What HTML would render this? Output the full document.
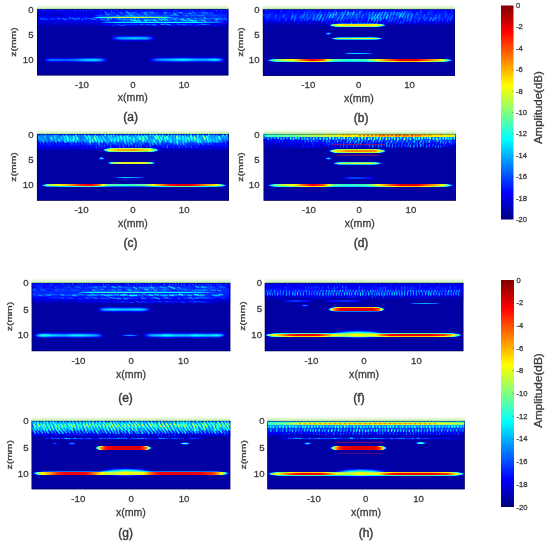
<!DOCTYPE html>
<html><head><meta charset="utf-8"><title>Figure</title>
<style>html,body{margin:0;padding:0;background:#fff;}svg{display:block;}</style></head>
<body><svg width="550" height="542" viewBox="0 0 550 542" font-family='"Liberation Sans", Arial, sans-serif'>
<defs>
<linearGradient id="topglow" x1="0" y1="0" x2="0" y2="1"><stop offset="0" stop-color="#d4f4c4" stop-opacity="0"/><stop offset="0.6" stop-color="#c8f0b0" stop-opacity="0.6"/><stop offset="1" stop-color="#b0e890" stop-opacity="0.95"/></linearGradient>
<filter id="jet" x="0" y="0" width="1" height="1" color-interpolation-filters="sRGB">
<feComponentTransfer>
<feFuncR type="table" tableValues="0 0 0 0 0.5 1 1 1 0.5"/>
<feFuncG type="table" tableValues="0 0 0.5 1 1 1 0.5 0 0"/>
<feFuncB type="table" tableValues="0.5 1 1 1 0.5 0 0 0 0"/>
</feComponentTransfer>
<feGaussianBlur stdDeviation="0.4"/>
</filter>
<linearGradient id="vg1" x1="0" y1="0" x2="0" y2="1"><stop offset="0.000" stop-color="#141414"/><stop offset="0.300" stop-color="#1f1f1f"/><stop offset="0.700" stop-color="#1a1a1a"/><stop offset="1.000" stop-color="#0a0a0a"/></linearGradient>
<filter id="bl0" x="-50%" y="-200%" width="200%" height="500%" color-interpolation-filters="sRGB"><feGaussianBlur stdDeviation="1.0 1.0"/></filter>
<linearGradient id="vg2" x1="0" y1="0" x2="0" y2="1"><stop offset="0.000" stop-color="#1a1a1a"/><stop offset="0.300" stop-color="#2b2b2b"/><stop offset="0.700" stop-color="#2b2b2b"/><stop offset="1.000" stop-color="#0a0a0a"/></linearGradient>
<linearGradient id="mg4" x1="0" y1="0" x2="1" y2="0"><stop offset="0.000" stop-color="white" stop-opacity="0.00"/><stop offset="0.225" stop-color="white" stop-opacity="1.00"/><stop offset="0.921" stop-color="white" stop-opacity="1.00"/><stop offset="1.000" stop-color="white" stop-opacity="0.30"/></linearGradient>
<mask id="mk3" maskContentUnits="userSpaceOnUse"><rect x="90.0" y="4.0" width="143.5" height="27.0" fill="url(#mg4)"/></mask>
<filter id="bl1" x="-50%" y="-200%" width="200%" height="500%" color-interpolation-filters="sRGB"><feGaussianBlur stdDeviation="0.75 0.75"/></filter>
<linearGradient id="hg5" x1="0" y1="0" x2="1" y2="0"><stop offset="0.000" stop-color="#323232"/><stop offset="0.123" stop-color="#565656"/><stop offset="0.410" stop-color="#636363"/><stop offset="0.738" stop-color="#636363"/><stop offset="1.000" stop-color="#3c3c3c"/></linearGradient>
<filter id="bl2" x="-50%" y="-200%" width="200%" height="500%" color-interpolation-filters="sRGB"><feGaussianBlur stdDeviation="1.2 0.5"/></filter>
<linearGradient id="hg6" x1="0" y1="0" x2="1" y2="0"><stop offset="0.000" stop-color="#494949"/><stop offset="0.150" stop-color="#777777"/><stop offset="0.338" stop-color="#929292"/><stop offset="0.588" stop-color="#989898"/><stop offset="0.838" stop-color="#848484"/><stop offset="1.000" stop-color="#494949"/></linearGradient>
<filter id="bl3" x="-50%" y="-200%" width="200%" height="500%" color-interpolation-filters="sRGB"><feGaussianBlur stdDeviation="1.0 0.5"/></filter>
<linearGradient id="hg7" x1="0" y1="0" x2="1" y2="0"><stop offset="0.000" stop-color="#434343"/><stop offset="0.159" stop-color="#757575"/><stop offset="0.545" stop-color="#898989"/><stop offset="0.841" stop-color="#787878"/><stop offset="1.000" stop-color="#434343"/></linearGradient>
<filter id="bl4" x="-50%" y="-200%" width="200%" height="500%" color-interpolation-filters="sRGB"><feGaussianBlur stdDeviation="1.0 0.8"/></filter>
<linearGradient id="hg8" x1="0" y1="0" x2="1" y2="0"><stop offset="0.000" stop-color="#414141"/><stop offset="0.095" stop-color="#616161"/><stop offset="0.333" stop-color="#575757"/><stop offset="0.492" stop-color="#616161"/><stop offset="0.651" stop-color="#818181"/><stop offset="0.810" stop-color="#8b8b8b"/><stop offset="0.905" stop-color="#747474"/><stop offset="1.000" stop-color="#414141"/></linearGradient>
<linearGradient id="hg9" x1="0" y1="0" x2="1" y2="0"><stop offset="0.000" stop-color="#414141"/><stop offset="0.108" stop-color="#6e6e6e"/><stop offset="0.270" stop-color="#818181"/><stop offset="0.432" stop-color="#9b9b9b"/><stop offset="0.608" stop-color="#818181"/><stop offset="0.743" stop-color="#7b7b7b"/><stop offset="0.878" stop-color="#959595"/><stop offset="0.946" stop-color="#818181"/><stop offset="1.000" stop-color="#474747"/></linearGradient>
<clipPath id="cp10"><rect x="37.0" y="8.8" width="191.5" height="66.8"/></clipPath>
<linearGradient id="vg11" x1="0" y1="0" x2="0" y2="1"><stop offset="0.000" stop-color="#1f1f1f"/><stop offset="0.350" stop-color="#292929"/><stop offset="0.700" stop-color="#212121"/><stop offset="1.000" stop-color="#0a0a0a"/></linearGradient>
<linearGradient id="hg12" x1="0" y1="0" x2="1" y2="0"><stop offset="0.000" stop-color="#676767"/><stop offset="0.073" stop-color="#969696"/><stop offset="0.273" stop-color="#a5a5a5"/><stop offset="0.727" stop-color="#a5a5a5"/><stop offset="0.909" stop-color="#969696"/><stop offset="1.000" stop-color="#676767"/></linearGradient>
<filter id="bl5" x="-50%" y="-200%" width="200%" height="500%" color-interpolation-filters="sRGB"><feGaussianBlur stdDeviation="0.8 0.6"/></filter>
<linearGradient id="hg13" x1="0" y1="0" x2="1" y2="0"><stop offset="0.000" stop-color="#606060"/><stop offset="0.100" stop-color="#8e8e8e"/><stop offset="0.560" stop-color="#9c9c9c"/><stop offset="0.900" stop-color="#8e8e8e"/><stop offset="1.000" stop-color="#525252"/></linearGradient>
<linearGradient id="hg14" x1="0" y1="0" x2="1" y2="0"><stop offset="0.000" stop-color="#3c3c3c"/><stop offset="0.387" stop-color="#5a5a5a"/><stop offset="1.000" stop-color="#343434"/></linearGradient>
<filter id="bl6" x="-50%" y="-200%" width="200%" height="500%" color-interpolation-filters="sRGB"><feGaussianBlur stdDeviation="1.0 0.6"/></filter>
<linearGradient id="hg15" x1="0" y1="0" x2="1" y2="0"><stop offset="0.000" stop-color="#505050"/><stop offset="0.022" stop-color="#787878"/><stop offset="0.092" stop-color="#939393"/><stop offset="0.152" stop-color="#a6a6a6"/><stop offset="0.190" stop-color="#c8c8c8"/><stop offset="0.239" stop-color="#e3e3e3"/><stop offset="0.293" stop-color="#d0d0d0"/><stop offset="0.326" stop-color="#a0a0a0"/><stop offset="0.353" stop-color="#787878"/><stop offset="0.418" stop-color="#6b6b6b"/><stop offset="0.527" stop-color="#707070"/><stop offset="0.565" stop-color="#868686"/><stop offset="0.598" stop-color="#a0a0a0"/><stop offset="0.663" stop-color="#c8c8c8"/><stop offset="0.717" stop-color="#e3e3e3"/><stop offset="0.799" stop-color="#e8e8e8"/><stop offset="0.837" stop-color="#d6d6d6"/><stop offset="0.891" stop-color="#bbbbbb"/><stop offset="0.946" stop-color="#a0a0a0"/><stop offset="0.978" stop-color="#787878"/><stop offset="1.000" stop-color="#505050"/></linearGradient>
<filter id="bl7" x="-50%" y="-200%" width="200%" height="500%" color-interpolation-filters="sRGB"><feGaussianBlur stdDeviation="0.9 0.65"/></filter>
<clipPath id="cp16"><rect x="262.8" y="8.9" width="192.2" height="67.0"/></clipPath>
<linearGradient id="vg17" x1="0" y1="0" x2="0" y2="1"><stop offset="0.000" stop-color="#424242"/><stop offset="0.350" stop-color="#454545"/><stop offset="0.650" stop-color="#242424"/><stop offset="1.000" stop-color="#0a0a0a"/></linearGradient>
<linearGradient id="hg18" x1="0" y1="0" x2="1" y2="0"><stop offset="0.000" stop-color="#6c6c6c"/><stop offset="0.093" stop-color="#9a9a9a"/><stop offset="0.259" stop-color="#b3b3b3"/><stop offset="0.574" stop-color="#b8b8b8"/><stop offset="0.852" stop-color="#9f9f9f"/><stop offset="1.000" stop-color="#666666"/></linearGradient>
<linearGradient id="hg19" x1="0" y1="0" x2="1" y2="0"><stop offset="0.000" stop-color="#606060"/><stop offset="0.106" stop-color="#8e8e8e"/><stop offset="0.681" stop-color="#9c9c9c"/><stop offset="0.894" stop-color="#8e8e8e"/><stop offset="1.000" stop-color="#525252"/></linearGradient>
<linearGradient id="hg20" x1="0" y1="0" x2="1" y2="0"><stop offset="0.000" stop-color="#3c3c3c"/><stop offset="0.345" stop-color="#5a5a5a"/><stop offset="1.000" stop-color="#343434"/></linearGradient>
<linearGradient id="hg21" x1="0" y1="0" x2="1" y2="0"><stop offset="0.000" stop-color="#505050"/><stop offset="0.022" stop-color="#868686"/><stop offset="0.098" stop-color="#a0a0a0"/><stop offset="0.163" stop-color="#bbbbbb"/><stop offset="0.207" stop-color="#d6d6d6"/><stop offset="0.261" stop-color="#e3e3e3"/><stop offset="0.304" stop-color="#c8c8c8"/><stop offset="0.332" stop-color="#9b9b9b"/><stop offset="0.359" stop-color="#787878"/><stop offset="0.451" stop-color="#6b6b6b"/><stop offset="0.560" stop-color="#787878"/><stop offset="0.598" stop-color="#9b9b9b"/><stop offset="0.641" stop-color="#b6b6b6"/><stop offset="0.696" stop-color="#dbdbdb"/><stop offset="0.766" stop-color="#e8e8e8"/><stop offset="0.832" stop-color="#dbdbdb"/><stop offset="0.886" stop-color="#bbbbbb"/><stop offset="0.940" stop-color="#a6a6a6"/><stop offset="0.973" stop-color="#868686"/><stop offset="1.000" stop-color="#505050"/></linearGradient>
<clipPath id="cp22"><rect x="36.9" y="133.7" width="192.1" height="67.1"/></clipPath>
<linearGradient id="vg23" x1="0" y1="0" x2="0" y2="1"><stop offset="0.000" stop-color="#474747"/><stop offset="0.300" stop-color="#333333"/><stop offset="0.600" stop-color="#1a1a1a"/><stop offset="1.000" stop-color="#0a0a0a"/></linearGradient>
<linearGradient id="mg25" x1="0" y1="0" x2="1" y2="0"><stop offset="0.000" stop-color="white" stop-opacity="0.60"/><stop offset="0.294" stop-color="white" stop-opacity="0.90"/><stop offset="1.000" stop-color="white" stop-opacity="1.00"/></linearGradient>
<mask id="mk24" maskContentUnits="userSpaceOnUse"><rect x="258.5" y="129.5" width="202.5" height="24.5" fill="url(#mg25)"/></mask>
<linearGradient id="hg26" x1="0" y1="0" x2="1" y2="0"><stop offset="0.000" stop-color="#6b6b6b"/><stop offset="0.138" stop-color="#7b7b7b"/><stop offset="0.294" stop-color="#8f8f8f"/><stop offset="0.449" stop-color="#9f9f9f"/><stop offset="0.605" stop-color="#aeaeae"/><stop offset="0.761" stop-color="#b3b3b3"/><stop offset="0.865" stop-color="#a4a4a4"/><stop offset="1.000" stop-color="#999999"/></linearGradient>
<filter id="bl8" x="-50%" y="-200%" width="200%" height="500%" color-interpolation-filters="sRGB"><feGaussianBlur stdDeviation="0.8 0.5"/></filter>
<linearGradient id="hg27" x1="0" y1="0" x2="1" y2="0"><stop offset="0.000" stop-color="#737373"/><stop offset="0.109" stop-color="#a4a4a4"/><stop offset="0.327" stop-color="#bdbdbd"/><stop offset="0.818" stop-color="#bdbdbd"/><stop offset="1.000" stop-color="#737373"/></linearGradient>
<linearGradient id="hg28" x1="0" y1="0" x2="1" y2="0"><stop offset="0.000" stop-color="#606060"/><stop offset="0.128" stop-color="#8e8e8e"/><stop offset="0.660" stop-color="#9c9c9c"/><stop offset="0.894" stop-color="#8e8e8e"/><stop offset="1.000" stop-color="#525252"/></linearGradient>
<linearGradient id="hg29" x1="0" y1="0" x2="1" y2="0"><stop offset="0.000" stop-color="#3c3c3c"/><stop offset="0.387" stop-color="#5a5a5a"/><stop offset="1.000" stop-color="#343434"/></linearGradient>
<linearGradient id="hg30" x1="0" y1="0" x2="1" y2="0"><stop offset="0.000" stop-color="#505050"/><stop offset="0.022" stop-color="#787878"/><stop offset="0.092" stop-color="#939393"/><stop offset="0.152" stop-color="#a6a6a6"/><stop offset="0.190" stop-color="#c8c8c8"/><stop offset="0.239" stop-color="#e3e3e3"/><stop offset="0.293" stop-color="#d0d0d0"/><stop offset="0.326" stop-color="#a0a0a0"/><stop offset="0.353" stop-color="#787878"/><stop offset="0.418" stop-color="#6b6b6b"/><stop offset="0.527" stop-color="#707070"/><stop offset="0.565" stop-color="#868686"/><stop offset="0.598" stop-color="#a0a0a0"/><stop offset="0.663" stop-color="#c8c8c8"/><stop offset="0.717" stop-color="#e3e3e3"/><stop offset="0.799" stop-color="#e8e8e8"/><stop offset="0.837" stop-color="#d6d6d6"/><stop offset="0.891" stop-color="#bbbbbb"/><stop offset="0.946" stop-color="#a0a0a0"/><stop offset="0.978" stop-color="#787878"/><stop offset="1.000" stop-color="#505050"/></linearGradient>
<filter id="bl9" x="-50%" y="-200%" width="200%" height="500%" color-interpolation-filters="sRGB"><feGaussianBlur stdDeviation="0.8 0.35"/></filter>
<filter id="bl10" x="-50%" y="-200%" width="200%" height="500%" color-interpolation-filters="sRGB"><feGaussianBlur stdDeviation="0.5 0.4"/></filter>
<clipPath id="cp31"><rect x="263.5" y="133.7" width="192.5" height="67.1"/></clipPath>
<linearGradient id="vg32" x1="0" y1="0" x2="0" y2="1"><stop offset="0.000" stop-color="#1f1f1f"/><stop offset="0.300" stop-color="#2b2b2b"/><stop offset="0.600" stop-color="#292929"/><stop offset="0.850" stop-color="#141414"/><stop offset="1.000" stop-color="#0a0a0a"/></linearGradient>
<linearGradient id="hg33" x1="0" y1="0" x2="1" y2="0"><stop offset="0.000" stop-color="#3c3c3c"/><stop offset="0.088" stop-color="#636363"/><stop offset="0.234" stop-color="#6d6d6d"/><stop offset="0.453" stop-color="#6a6a6a"/><stop offset="0.672" stop-color="#636363"/><stop offset="0.891" stop-color="#565656"/><stop offset="1.000" stop-color="#323232"/></linearGradient>
<linearGradient id="hg34" x1="0" y1="0" x2="1" y2="0"><stop offset="0.000" stop-color="#4f4f4f"/><stop offset="0.115" stop-color="#7f7f7f"/><stop offset="0.269" stop-color="#929292"/><stop offset="0.519" stop-color="#858585"/><stop offset="0.769" stop-color="#929292"/><stop offset="0.904" stop-color="#7f7f7f"/><stop offset="1.000" stop-color="#464646"/></linearGradient>
<filter id="bl11" x="-50%" y="-200%" width="200%" height="500%" color-interpolation-filters="sRGB"><feGaussianBlur stdDeviation="0.9 0.85"/></filter>
<linearGradient id="hg35" x1="0" y1="0" x2="1" y2="0"><stop offset="0.000" stop-color="#5f5f5f"/><stop offset="0.074" stop-color="#929292"/><stop offset="0.147" stop-color="#9f9f9f"/><stop offset="0.250" stop-color="#7f7f7f"/><stop offset="0.441" stop-color="#727272"/><stop offset="0.544" stop-color="#858585"/><stop offset="0.662" stop-color="#8b8b8b"/><stop offset="0.809" stop-color="#787878"/><stop offset="0.926" stop-color="#696969"/><stop offset="1.000" stop-color="#3f3f3f"/></linearGradient>
<linearGradient id="hg36" x1="0" y1="0" x2="1" y2="0"><stop offset="0.000" stop-color="#323232"/><stop offset="0.500" stop-color="#4b4b4b"/><stop offset="1.000" stop-color="#2c2c2c"/></linearGradient>
<linearGradient id="hg37" x1="0" y1="0" x2="1" y2="0"><stop offset="0.000" stop-color="#464646"/><stop offset="0.074" stop-color="#727272"/><stop offset="0.198" stop-color="#7f7f7f"/><stop offset="0.272" stop-color="#959595"/><stop offset="0.383" stop-color="#7f7f7f"/><stop offset="0.543" stop-color="#787878"/><stop offset="0.642" stop-color="#929292"/><stop offset="0.753" stop-color="#7f7f7f"/><stop offset="0.852" stop-color="#858585"/><stop offset="0.938" stop-color="#989898"/><stop offset="1.000" stop-color="#5f5f5f"/></linearGradient>
<clipPath id="cp38"><rect x="31.6" y="282.6" width="198.8" height="68.7"/></clipPath>
<linearGradient id="vg39" x1="0" y1="0" x2="0" y2="1"><stop offset="0.000" stop-color="#121212"/><stop offset="0.350" stop-color="#242424"/><stop offset="0.650" stop-color="#1c1c1c"/><stop offset="1.000" stop-color="#0a0a0a"/></linearGradient>
<filter id="bl12" x="-50%" y="-200%" width="200%" height="500%" color-interpolation-filters="sRGB"><feGaussianBlur stdDeviation="0.5 0.5"/></filter>
<linearGradient id="hg40" x1="0" y1="0" x2="1" y2="0"><stop offset="0.000" stop-color="#323232"/><stop offset="0.414" stop-color="#535353"/><stop offset="1.000" stop-color="#323232"/></linearGradient>
<linearGradient id="hg41" x1="0" y1="0" x2="1" y2="0"><stop offset="0.000" stop-color="#323232"/><stop offset="0.541" stop-color="#4f4f4f"/><stop offset="1.000" stop-color="#323232"/></linearGradient>
<linearGradient id="hg42" x1="0" y1="0" x2="1" y2="0"><stop offset="0.000" stop-color="#323232"/><stop offset="0.500" stop-color="#4f4f4f"/><stop offset="1.000" stop-color="#323232"/></linearGradient>
<linearGradient id="hg43" x1="0" y1="0" x2="1" y2="0"><stop offset="0.000" stop-color="#737373"/><stop offset="0.073" stop-color="#b3b3b3"/><stop offset="0.164" stop-color="#d9d9d9"/><stop offset="0.291" stop-color="#e6e6e6"/><stop offset="0.782" stop-color="#e6e6e6"/><stop offset="0.909" stop-color="#cccccc"/><stop offset="1.000" stop-color="#737373"/></linearGradient>
<linearGradient id="hg44" x1="0" y1="0" x2="1" y2="0"><stop offset="0.000" stop-color="#4d4d4d"/><stop offset="0.255" stop-color="#6b6b6b"/><stop offset="0.490" stop-color="#808080"/><stop offset="0.745" stop-color="#737373"/><stop offset="1.000" stop-color="#4d4d4d"/></linearGradient>
<filter id="bl13" x="-50%" y="-200%" width="200%" height="500%" color-interpolation-filters="sRGB"><feGaussianBlur stdDeviation="0.9 0.8"/></filter>
<linearGradient id="hg45" x1="0" y1="0" x2="1" y2="0"><stop offset="0.000" stop-color="#5b5b5b"/><stop offset="0.021" stop-color="#8f8f8f"/><stop offset="0.072" stop-color="#b1b1b1"/><stop offset="0.123" stop-color="#d6d6d6"/><stop offset="0.174" stop-color="#e3e3e3"/><stop offset="0.267" stop-color="#dedede"/><stop offset="0.308" stop-color="#c4c4c4"/><stop offset="0.349" stop-color="#9c9c9c"/><stop offset="0.405" stop-color="#8f8f8f"/><stop offset="0.467" stop-color="#a2a2a2"/><stop offset="0.508" stop-color="#979797"/><stop offset="0.559" stop-color="#9c9c9c"/><stop offset="0.595" stop-color="#c4c4c4"/><stop offset="0.636" stop-color="#dedede"/><stop offset="0.687" stop-color="#e3e3e3"/><stop offset="0.841" stop-color="#e3e3e3"/><stop offset="0.918" stop-color="#d1d1d1"/><stop offset="0.954" stop-color="#aaaaaa"/><stop offset="0.979" stop-color="#828282"/><stop offset="1.000" stop-color="#4e4e4e"/></linearGradient>
<filter id="bl14" x="-50%" y="-200%" width="200%" height="500%" color-interpolation-filters="sRGB"><feGaussianBlur stdDeviation="0.9 0.7"/></filter>
<clipPath id="cp46"><rect x="264.7" y="282.6" width="198.8" height="68.7"/></clipPath>
<linearGradient id="vg47" x1="0" y1="0" x2="0" y2="1"><stop offset="0.000" stop-color="#383838"/><stop offset="0.200" stop-color="#4c4c4c"/><stop offset="0.450" stop-color="#424242"/><stop offset="0.650" stop-color="#262626"/><stop offset="0.850" stop-color="#141414"/><stop offset="1.000" stop-color="#0a0a0a"/></linearGradient>
<linearGradient id="hg48" x1="0" y1="0" x2="1" y2="0"><stop offset="0.000" stop-color="#737373"/><stop offset="0.073" stop-color="#b3b3b3"/><stop offset="0.164" stop-color="#d9d9d9"/><stop offset="0.291" stop-color="#e6e6e6"/><stop offset="0.782" stop-color="#e6e6e6"/><stop offset="0.909" stop-color="#cccccc"/><stop offset="1.000" stop-color="#737373"/></linearGradient>
<linearGradient id="hg49" x1="0" y1="0" x2="1" y2="0"><stop offset="0.000" stop-color="#4d4d4d"/><stop offset="0.255" stop-color="#6b6b6b"/><stop offset="0.490" stop-color="#808080"/><stop offset="0.745" stop-color="#737373"/><stop offset="1.000" stop-color="#4d4d4d"/></linearGradient>
<linearGradient id="hg50" x1="0" y1="0" x2="1" y2="0"><stop offset="0.000" stop-color="#5b5b5b"/><stop offset="0.021" stop-color="#8f8f8f"/><stop offset="0.072" stop-color="#b1b1b1"/><stop offset="0.124" stop-color="#d6d6d6"/><stop offset="0.175" stop-color="#e3e3e3"/><stop offset="0.268" stop-color="#dedede"/><stop offset="0.309" stop-color="#c4c4c4"/><stop offset="0.351" stop-color="#9c9c9c"/><stop offset="0.407" stop-color="#8f8f8f"/><stop offset="0.469" stop-color="#a2a2a2"/><stop offset="0.510" stop-color="#979797"/><stop offset="0.562" stop-color="#9c9c9c"/><stop offset="0.598" stop-color="#c4c4c4"/><stop offset="0.639" stop-color="#dedede"/><stop offset="0.691" stop-color="#e3e3e3"/><stop offset="0.845" stop-color="#e3e3e3"/><stop offset="0.923" stop-color="#d1d1d1"/><stop offset="0.959" stop-color="#aaaaaa"/><stop offset="0.985" stop-color="#828282"/><stop offset="1.005" stop-color="#4e4e4e"/></linearGradient>
<clipPath id="cp51"><rect x="31.5" y="420.6" width="198.9" height="68.8"/></clipPath>
<linearGradient id="vg52" x1="0" y1="0" x2="0" y2="1"><stop offset="0.000" stop-color="#4c4c4c"/><stop offset="0.200" stop-color="#595959"/><stop offset="0.350" stop-color="#383838"/><stop offset="0.600" stop-color="#242424"/><stop offset="0.800" stop-color="#141414"/><stop offset="1.000" stop-color="#0a0a0a"/></linearGradient>
<linearGradient id="hg53" x1="0" y1="0" x2="1" y2="0"><stop offset="-0.001" stop-color="#767676"/><stop offset="0.090" stop-color="#808080"/><stop offset="0.141" stop-color="#959595"/><stop offset="0.217" stop-color="#a4a4a4"/><stop offset="0.571" stop-color="#afafaf"/><stop offset="0.773" stop-color="#aaaaaa"/><stop offset="0.900" stop-color="#9a9a9a"/><stop offset="1.000" stop-color="#8d8d8d"/></linearGradient>
<filter id="bl15" x="-50%" y="-200%" width="200%" height="500%" color-interpolation-filters="sRGB"><feGaussianBlur stdDeviation="0.8 0.45"/></filter>
<linearGradient id="hg54" x1="0" y1="0" x2="1" y2="0"><stop offset="0.000" stop-color="#737373"/><stop offset="0.073" stop-color="#b3b3b3"/><stop offset="0.164" stop-color="#d9d9d9"/><stop offset="0.291" stop-color="#e6e6e6"/><stop offset="0.782" stop-color="#e6e6e6"/><stop offset="0.909" stop-color="#cccccc"/><stop offset="1.000" stop-color="#737373"/></linearGradient>
<linearGradient id="hg55" x1="0" y1="0" x2="1" y2="0"><stop offset="0.000" stop-color="#4d4d4d"/><stop offset="0.255" stop-color="#6b6b6b"/><stop offset="0.490" stop-color="#808080"/><stop offset="0.745" stop-color="#737373"/><stop offset="1.000" stop-color="#4d4d4d"/></linearGradient>
<linearGradient id="hg56" x1="0" y1="0" x2="1" y2="0"><stop offset="0.000" stop-color="#5b5b5b"/><stop offset="0.021" stop-color="#8f8f8f"/><stop offset="0.072" stop-color="#b1b1b1"/><stop offset="0.123" stop-color="#d6d6d6"/><stop offset="0.174" stop-color="#e3e3e3"/><stop offset="0.267" stop-color="#dedede"/><stop offset="0.308" stop-color="#c4c4c4"/><stop offset="0.349" stop-color="#9c9c9c"/><stop offset="0.405" stop-color="#8f8f8f"/><stop offset="0.467" stop-color="#a2a2a2"/><stop offset="0.508" stop-color="#979797"/><stop offset="0.559" stop-color="#9c9c9c"/><stop offset="0.595" stop-color="#c4c4c4"/><stop offset="0.636" stop-color="#dedede"/><stop offset="0.687" stop-color="#e3e3e3"/><stop offset="0.841" stop-color="#e3e3e3"/><stop offset="0.918" stop-color="#d1d1d1"/><stop offset="0.954" stop-color="#aaaaaa"/><stop offset="0.979" stop-color="#828282"/><stop offset="1.000" stop-color="#4e4e4e"/></linearGradient>
<clipPath id="cp57"><rect x="267.2" y="420.8" width="197.6" height="68.6"/></clipPath>
<linearGradient id="cb58" x1="0" y1="0" x2="0" y2="1"><stop offset="0.000" stop-color="#800000"/><stop offset="0.125" stop-color="#ff0000"/><stop offset="0.375" stop-color="#ffff00"/><stop offset="0.625" stop-color="#00ffff"/><stop offset="0.875" stop-color="#0000ff"/><stop offset="1.000" stop-color="#000080"/></linearGradient>
<linearGradient id="cb59" x1="0" y1="0" x2="0" y2="1"><stop offset="0.000" stop-color="#800000"/><stop offset="0.125" stop-color="#ff0000"/><stop offset="0.375" stop-color="#ffff00"/><stop offset="0.625" stop-color="#00ffff"/><stop offset="0.875" stop-color="#0000ff"/><stop offset="1.000" stop-color="#000080"/></linearGradient>
</defs>
<g clip-path="url(#cp10)"><g filter="url(#jet)">
<rect x="37.0" y="8.8" width="191.5" height="66.8" fill="#090909" opacity="1.00"/>
<g><rect x="37.0" y="9.0" width="191.5" height="18.0" fill="url(#vg1)" filter="url(#bl0)"/></g>
<g mask="url(#mk3)"><rect x="95.0" y="9.0" width="133.5" height="17.0" fill="url(#vg2)" filter="url(#bl0)"/></g>
<g filter="url(#bl1)">
<path d="M38.5 12.2l2.4 0.9M49.9 15.0l2.5 0.7M52.3 14.9l2.5 0.7M55.8 15.2l2.5 0.7" stroke="#0d0d0d" stroke-width="1.4" stroke-linecap="round" fill="none"/>
<path d="M44.1 12.8l2.4 0.9M54.5 12.8l2.4 0.9M57.0 13.0l2.4 0.9M63.1 12.4l2.4 0.9M72.4 12.0l2.4 0.9M78.3 12.7l2.4 0.9M84.3 12.3l2.4 0.9M94.1 12.8l2.4 0.9M37.2 14.8l2.5 0.7M40.5 14.5l2.5 0.7M43.5 14.5l2.5 0.7M46.4 15.4l2.5 0.7M59.2 15.1l2.5 0.7M62.6 15.1l2.5 0.7M72.0 14.5l2.5 0.7M81.3 15.1l2.5 0.7M86.9 15.4l2.5 0.7M90.5 15.2l2.5 0.7" stroke="#131313" stroke-width="1.4" stroke-linecap="round" fill="none"/>
<path d="M210.1 24.9l3.0 0.5M216.0 24.3l3.0 0.5M219.4 24.0l3.0 0.5" stroke="#1a1a1a" stroke-width="1.3" stroke-linecap="round" fill="none"/>
<path d="M41.3 12.9l2.4 0.9M47.5 12.4l2.4 0.9M50.9 12.5l2.4 0.9M59.7 12.7l2.4 0.9M81.7 12.6l2.4 0.9M87.8 13.1l2.4 0.9M90.8 12.9l2.4 0.9M96.7 13.0l2.4 0.9M65.9 15.3l2.5 0.7M75.1 14.3l2.5 0.7M78.3 14.7l2.5 0.7" stroke="#1a1a1a" stroke-width="1.4" stroke-linecap="round" fill="none"/>
<path d="M100.1 24.7l3.0 0.5M103.6 24.5l3.0 0.5M106.4 24.3l3.0 0.5M158.0 24.0l3.0 0.5" stroke="#202020" stroke-width="1.3" stroke-linecap="round" fill="none"/>
<path d="M65.8 12.7l2.4 0.9M69.4 12.1l2.4 0.9M74.9 12.9l2.4 0.9M99.1 13.1l2.4 0.9M102.0 12.2l2.4 0.9M213.6 12.4l2.4 0.9M216.1 12.3l2.4 0.9M222.7 12.0l2.4 0.9M69.4 14.9l2.5 0.7M83.8 15.2l2.5 0.7M179.3 14.7l2.5 0.7" stroke="#202020" stroke-width="1.4" stroke-linecap="round" fill="none"/>
<path d="M48.6 10.0l0.0 1.0M51.8 10.6l0.0 1.0M55.2 9.5l0.0 1.0M65.8 9.8l0.0 1.0M123.7 10.4l0.0 1.0M133.0 10.5l0.0 1.0M144.7 9.8l0.0 1.0M155.5 9.5l0.0 1.0M179.7 9.7l0.0 1.0M209.5 10.5l0.0 1.0" stroke="#202020" stroke-width="1.6" stroke-linecap="round" fill="none"/>
<path d="M109.5 24.9l3.0 0.5M136.2 24.1l3.0 0.5M155.3 24.9l3.0 0.5M174.0 24.4l3.0 0.5M186.2 24.2l3.0 0.5M192.9 24.8l3.0 0.5M213.3 24.9l3.0 0.5" stroke="#262626" stroke-width="1.3" stroke-linecap="round" fill="none"/>
<path d="M114.7 12.7l2.4 0.9M117.1 13.1l2.4 0.9M122.6 13.1l2.4 0.9M137.3 12.3l2.4 0.9M158.9 12.6l2.4 0.9M161.3 12.7l2.4 0.9M170.9 13.1l2.4 0.9M219.5 12.4l2.4 0.9M93.9 15.1l2.5 0.7M102.3 14.4l2.5 0.7M48.6 18.7l1.7 1.0M100.7 20.3l2.4 0.9M109.8 19.6l2.4 0.9M112.8 19.6l2.4 0.9M115.9 20.1l2.4 0.9M212.3 19.3l2.4 0.9" stroke="#262626" stroke-width="1.4" stroke-linecap="round" fill="none"/>
<path d="M40.0 10.0l0.0 1.0M60.7 9.5l0.0 1.0M63.3 10.1l0.0 1.0M68.7 9.5l0.0 1.0M72.0 10.3l0.0 1.0M77.0 10.4l0.0 1.0M89.3 9.5l0.0 1.0M94.4 10.3l0.0 1.0M97.5 10.0l0.0 1.0M103.2 9.5l0.0 1.0M108.6 9.7l0.0 1.0M120.2 10.2l0.0 1.0M130.2 10.2l0.0 1.0M136.0 10.1l0.0 1.0M138.9 9.9l0.0 1.0M158.7 9.6l0.0 1.0M161.7 9.6l0.0 1.0M169.5 9.5l0.0 1.0M172.3 9.7l0.0 1.0M182.8 10.3l0.0 1.0M194.9 10.3l0.0 1.0M197.3 10.7l0.0 1.0M200.7 10.5l0.0 1.0M206.2 9.5l0.0 1.0M219.2 9.9l0.0 1.0M224.3 10.3l0.0 1.0" stroke="#262626" stroke-width="1.6" stroke-linecap="round" fill="none"/>
<path d="M112.1 24.9l3.0 0.5M115.4 24.2l3.0 0.5M124.9 24.3l3.0 0.5M128.3 24.6l3.0 0.5M131.2 24.3l3.0 0.5M133.8 24.2l3.0 0.5M143.2 24.4l3.0 0.5M170.4 24.9l3.0 0.5M179.6 24.3l3.0 0.5M189.4 24.3l3.0 0.5M195.4 24.8l3.0 0.5M207.2 24.1l3.0 0.5" stroke="#2d2d2d" stroke-width="1.3" stroke-linecap="round" fill="none"/>
<path d="M156.2 12.0l2.4 0.9M167.5 12.6l2.4 0.9M183.4 13.0l2.4 0.9M195.4 12.8l2.4 0.9M198.6 12.0l2.4 0.9M208.1 12.3l2.4 0.9M111.7 15.2l2.5 0.7M114.1 14.8l2.5 0.7M119.9 14.6l2.5 0.7M122.9 15.0l2.5 0.7M161.5 14.3l2.5 0.7M204.3 15.1l2.5 0.7M216.5 15.1l2.5 0.7M46.0 18.8l1.7 1.0M54.7 18.5l1.7 1.0M60.9 18.4l1.7 1.0M177.5 19.6l2.4 0.9M206.2 20.2l2.4 0.9M209.1 19.5l2.4 0.9" stroke="#2d2d2d" stroke-width="1.4" stroke-linecap="round" fill="none"/>
<path d="M37.4 10.4l0.0 1.0M43.1 9.6l0.0 1.0M45.4 10.0l0.0 1.0M58.1 10.0l0.0 1.0M74.5 10.5l0.0 1.0M80.1 10.0l0.0 1.0M83.4 9.9l0.0 1.0M86.4 10.5l0.0 1.0M91.9 10.0l0.0 1.0M100.5 10.1l0.0 1.0M105.6 10.7l0.0 1.0M114.5 9.8l0.0 1.0M117.4 10.2l0.0 1.0M126.9 10.4l0.0 1.0M141.8 10.2l0.0 1.0M147.2 10.5l0.0 1.0M150.4 10.5l0.0 1.0M153.1 10.3l0.0 1.0M164.2 9.7l0.0 1.0M166.9 10.0l0.0 1.0M177.3 10.5l0.0 1.0M185.9 9.8l0.0 1.0M189.4 10.1l0.0 1.0M192.0 10.0l0.0 1.0M212.9 9.7l0.0 1.0M221.7 10.0l0.0 1.0M226.9 9.9l0.0 1.0" stroke="#2d2d2d" stroke-width="1.6" stroke-linecap="round" fill="none"/>
<path d="M149.8 24.6l3.0 0.5M198.0 24.2l3.0 0.5" stroke="#333333" stroke-width="1.3" stroke-linecap="round" fill="none"/>
<path d="M108.2 13.1l2.4 0.9M111.7 12.3l2.4 0.9M140.9 12.7l2.4 0.9M146.8 12.3l2.4 0.9M176.9 12.1l2.4 0.9M185.8 13.0l2.4 0.9M210.5 12.5l2.4 0.9M96.8 15.4l2.5 0.7M99.7 14.8l2.5 0.7M108.9 14.4l2.5 0.7M135.1 14.6l2.5 0.7M150.2 14.9l2.5 0.7M152.6 14.8l2.5 0.7M155.4 15.2l2.5 0.7M158.6 15.0l2.5 0.7M167.6 15.4l2.5 0.7M182.2 15.3l2.5 0.7M188.6 15.2l2.5 0.7M207.8 14.4l2.5 0.7M211.2 14.8l2.5 0.7M213.6 15.2l2.5 0.7M51.5 18.3l1.7 1.0M66.1 18.9l1.7 1.0M87.5 17.9l1.7 1.0M95.9 18.2l1.7 1.0M98.8 17.9l1.7 1.0M103.8 18.5l1.7 1.0M112.9 18.2l1.7 1.0M127.5 18.7l1.7 1.0M140.5 17.9l1.7 1.0M149.5 17.8l1.7 1.0M119.1 19.5l2.4 0.9M141.1 19.8l2.4 0.9M156.6 20.0l2.4 0.9M170.6 19.2l2.4 0.9M218.7 19.8l2.4 0.9" stroke="#333333" stroke-width="1.4" stroke-linecap="round" fill="none"/>
<path d="M111.5 10.4l0.0 1.0M174.8 10.1l0.0 1.0M203.4 10.4l0.0 1.0M216.3 10.3l0.0 1.0" stroke="#333333" stroke-width="1.6" stroke-linecap="round" fill="none"/>
<path d="M118.3 24.8l3.0 0.5M121.5 24.8l3.0 0.5M139.6 24.1l3.0 0.5M146.5 24.3l3.0 0.5M176.9 23.9l3.0 0.5M204.5 24.4l3.0 0.5" stroke="#393939" stroke-width="1.3" stroke-linecap="round" fill="none"/>
<path d="M104.7 12.1l2.4 0.9M119.9 12.5l2.4 0.9M134.6 12.3l2.4 0.9M153.1 12.7l2.4 0.9M140.9 15.4l2.5 0.7M147.2 14.6l2.5 0.7M164.2 15.3l2.5 0.7M176.5 14.9l2.5 0.7M191.8 15.0l2.5 0.7M194.7 15.0l2.5 0.7M43.4 18.4l1.7 1.0M81.4 18.8l1.7 1.0M90.6 18.6l1.7 1.0M121.3 18.6l1.7 1.0M143.6 18.2l1.7 1.0M152.8 18.0l1.7 1.0M155.2 17.7l1.7 1.0M167.2 18.8l1.7 1.0M191.4 17.8l1.7 1.0M198.2 18.3l1.7 1.0M201.0 18.2l1.7 1.0M207.1 18.7l1.7 1.0M209.5 18.2l1.7 1.0M221.5 18.1l1.7 1.0M104.0 20.0l2.4 0.9M107.0 20.2l2.4 0.9M121.9 20.1l2.4 0.9M167.6 19.9l2.4 0.9M196.8 20.1l2.4 0.9" stroke="#393939" stroke-width="1.4" stroke-linecap="round" fill="none"/>
<path d="M164.3 23.8l3.0 0.5M183.0 24.7l3.0 0.5M201.5 24.1l3.0 0.5" stroke="#404040" stroke-width="1.3" stroke-linecap="round" fill="none"/>
<path d="M128.9 13.1l2.4 0.9M131.9 12.7l2.4 0.9M192.5 12.2l2.4 0.9M202.1 12.6l2.4 0.9M205.2 12.5l2.4 0.9M116.5 15.0l2.5 0.7M125.6 15.2l2.5 0.7M137.6 14.4l2.5 0.7M170.6 14.8l2.5 0.7M185.3 15.3l2.5 0.7M198.2 15.3l2.5 0.7M201.5 15.0l2.5 0.7M40.6 18.5l1.7 1.0M57.8 18.0l1.7 1.0M63.4 18.7l1.7 1.0M69.2 17.7l1.7 1.0M72.6 18.1l1.7 1.0M75.4 18.6l1.7 1.0M77.9 17.9l1.7 1.0M84.6 18.0l1.7 1.0M115.8 17.9l1.7 1.0M130.8 18.2l1.7 1.0M170.3 18.4l1.7 1.0M185.6 18.9l1.7 1.0M212.7 17.9l1.7 1.0M224.8 18.4l1.7 1.0M128.4 19.5l2.4 0.9M215.1 20.1l2.4 0.9" stroke="#404040" stroke-width="1.4" stroke-linecap="round" fill="none"/>
<path d="M152.8 24.6l3.0 0.5M161.0 24.2l3.0 0.5M167.4 24.4l3.0 0.5" stroke="#464646" stroke-width="1.3" stroke-linecap="round" fill="none"/>
<path d="M150.3 12.3l2.4 0.9M164.1 12.5l2.4 0.9M173.5 13.1l2.4 0.9M179.9 12.3l2.4 0.9M189.2 13.0l2.4 0.9M105.8 14.4l2.5 0.7M132.0 15.2l2.5 0.7M144.2 14.4l2.5 0.7M173.8 14.6l2.5 0.7M93.2 18.6l1.7 1.0M101.2 18.8l1.7 1.0M124.0 18.8l1.7 1.0M146.1 18.7l1.7 1.0M173.2 17.8l1.7 1.0M176.0 17.9l1.7 1.0M179.3 18.5l1.7 1.0M194.7 18.1l1.7 1.0M218.6 18.0l1.7 1.0M124.9 19.3l2.4 0.9M187.8 20.0l2.4 0.9M200.2 19.7l2.4 0.9" stroke="#464646" stroke-width="1.4" stroke-linecap="round" fill="none"/>
<path d="M126.2 12.1l2.4 0.9M144.1 12.4l2.4 0.9M129.0 14.9l2.5 0.7M109.7 17.8l1.7 1.0M118.4 18.3l1.7 1.0M137.2 17.9l1.7 1.0M161.6 18.2l1.7 1.0M151.0 19.6l2.4 0.9M165.0 19.5l2.4 0.9M174.0 19.4l2.4 0.9M184.3 20.2l2.4 0.9" stroke="#4d4d4d" stroke-width="1.4" stroke-linecap="round" fill="none"/>
<path d="M107.0 18.4l1.7 1.0M133.8 18.2l1.7 1.0M158.3 18.5l1.7 1.0M182.4 18.6l1.7 1.0M204.1 17.7l1.7 1.0M215.9 18.7l1.7 1.0M147.5 19.6l2.4 0.9M162.5 19.2l2.4 0.9M180.9 19.5l2.4 0.9M203.1 20.1l2.4 0.9" stroke="#535353" stroke-width="1.4" stroke-linecap="round" fill="none"/>
<path d="M164.6 18.5l1.7 1.0M188.1 18.7l1.7 1.0M159.6 19.4l2.4 0.9M194.1 20.4l2.4 0.9" stroke="#595959" stroke-width="1.4" stroke-linecap="round" fill="none"/>
<path d="M130.9 19.7l2.4 0.9M134.4 20.3l2.4 0.9M137.8 20.3l2.4 0.9M144.2 20.1l2.4 0.9M154.0 19.8l2.4 0.9M190.9 20.1l2.4 0.9" stroke="#606060" stroke-width="1.4" stroke-linecap="round" fill="none"/>
</g>
<rect x="100.0" y="21.70" width="122.0" height="1.20" rx="8.0" ry="0.60" fill="url(#hg5)" filter="url(#bl2)"/>
<rect x="93.0" y="16.80" width="80.0" height="1.20" rx="8.0" ry="0.60" fill="url(#hg6)" filter="url(#bl3)"/>
<rect x="111.0" y="37.25" width="44.0" height="1.90" rx="8.0" ry="0.95" fill="url(#hg7)" filter="url(#bl4)"/>
<rect x="44.0" y="59.00" width="63.0" height="2.00" rx="8.0" ry="1.00" fill="url(#hg8)" filter="url(#bl4)"/>
<rect x="150.0" y="58.80" width="74.0" height="2.00" rx="8.0" ry="1.00" fill="url(#hg9)" filter="url(#bl4)"/>
</g>
</g>
<rect x="37.4" y="9.2" width="190.7" height="66.0" fill="none" stroke="#00004a" stroke-width="0.8" opacity="0.7"/>
<rect x="37.0" y="4.3" width="191.5" height="4.8" fill="url(#topglow)"/>
<text x="33.5" y="9.2" font-size="9.6" text-anchor="end" dominant-baseline="central" font-weight="normal" fill="#3c3c3c" stroke="#3c3c3c" stroke-width="0.30">0</text>
<text x="33.5" y="34.2" font-size="9.6" text-anchor="end" dominant-baseline="central" font-weight="normal" fill="#3c3c3c" stroke="#3c3c3c" stroke-width="0.30">5</text>
<text x="33.5" y="59.3" font-size="9.6" text-anchor="end" dominant-baseline="central" font-weight="normal" fill="#3c3c3c" stroke="#3c3c3c" stroke-width="0.30">10</text>
<text x="82.0" y="84.0" font-size="9.6" text-anchor="middle" dominant-baseline="central" font-weight="normal" fill="#3c3c3c" stroke="#3c3c3c" stroke-width="0.30" textLength="14.0" lengthAdjust="spacingAndGlyphs">-10</text>
<text x="133.0" y="84.0" font-size="9.6" text-anchor="middle" dominant-baseline="central" font-weight="normal" fill="#3c3c3c" stroke="#3c3c3c" stroke-width="0.30">0</text>
<text x="184.0" y="84.0" font-size="9.6" text-anchor="middle" dominant-baseline="central" font-weight="normal" fill="#3c3c3c" stroke="#3c3c3c" stroke-width="0.30">10</text>
<text x="132.8" y="97.0" font-size="10.8" text-anchor="middle" dominant-baseline="central" font-weight="normal" fill="#3c3c3c" stroke="#3c3c3c" stroke-width="0.30" textLength="30.0" lengthAdjust="spacingAndGlyphs">x(mm)</text>
<text x="13.5" y="42.0" font-size="7.8" text-anchor="middle" dominant-baseline="central" font-weight="normal" fill="#3c3c3c" stroke="#3c3c3c" stroke-width="0.30" textLength="29.5" lengthAdjust="spacingAndGlyphs" transform="rotate(-90 13.5 42.0)">z(mm)</text>
<text x="130.7" y="117.3" font-size="12.0" text-anchor="middle" dominant-baseline="central" font-weight="normal" fill="#3c3c3c" stroke="#3c3c3c" stroke-width="0.45">(a)</text>
<g clip-path="url(#cp16)"><g filter="url(#jet)">
<rect x="262.8" y="8.9" width="192.2" height="67.0" fill="#090909" opacity="1.00"/>
<g><rect x="263.0" y="9.0" width="192.0" height="16.0" fill="url(#vg11)" filter="url(#bl0)"/></g>
<g filter="url(#bl1)">
<path d="M292.2 21.0l-0.7 1.9M295.5 20.5l-0.7 1.9M301.8 21.5l-0.7 1.9M304.3 21.4l-0.7 1.9M313.0 20.5l-0.7 1.9M319.0 21.1l-0.7 1.9M442.7 20.8l-0.7 1.9M452.1 21.5l-0.7 1.9" stroke="#131313" stroke-width="1.6" stroke-linecap="round" fill="none"/>
<path d="M271.6 10.3l0.0 1.2M284.1 9.6l0.0 1.2M292.5 9.6l0.0 1.2M295.3 10.2l0.0 1.2M333.1 10.7l0.0 1.2M350.9 10.5l0.0 1.2M365.0 10.0l0.0 1.2M371.2 10.5l0.0 1.2M376.2 10.4l0.0 1.2M379.1 10.8l0.0 1.2M381.6 10.0l0.0 1.2M387.6 10.1l0.0 1.2M399.9 10.1l0.0 1.2M403.4 10.3l0.0 1.2M412.7 10.3l0.0 1.2M415.3 9.6l0.0 1.2M417.9 10.4l0.0 1.2M265.1 11.6l-1.1 2.3M278.8 11.8l-1.1 2.3M301.9 12.5l-1.1 2.3M283.1 18.2l-1.3 2.7M307.8 21.6l-0.7 1.9M310.3 20.5l-0.7 1.9M315.9 20.8l-0.7 1.9M322.1 21.6l-0.7 1.9M324.6 21.0l-0.7 1.9M339.5 21.3l-0.7 1.9M355.1 20.8l-0.7 1.9M412.9 21.0l-0.7 1.9M428.0 20.5l-0.7 1.9M432.9 21.0l-0.7 1.9M449.0 21.1l-0.7 1.9" stroke="#1a1a1a" stroke-width="1.6" stroke-linecap="round" fill="none"/>
<path d="M274.7 9.8l0.0 1.2M277.6 10.5l0.0 1.2M286.6 10.0l0.0 1.2M314.2 10.2l0.0 1.2M317.7 10.6l0.0 1.2M326.8 9.9l0.0 1.2M338.8 10.4l0.0 1.2M341.9 9.8l0.0 1.2M373.6 10.6l0.0 1.2M397.2 10.4l0.0 1.2M409.8 10.3l0.0 1.2M424.5 10.1l0.0 1.2M435.9 9.7l0.0 1.2M439.2 9.7l0.0 1.2M441.8 9.9l0.0 1.2M448.0 10.7l0.0 1.2M268.5 12.1l-1.1 2.3M275.6 11.5l-1.1 2.3M285.1 12.1l-1.1 2.3M290.5 12.6l-1.1 2.3M414.9 11.5l-1.1 2.3M426.4 12.4l-1.1 2.3M435.3 11.7l-1.1 2.3M449.5 12.1l-1.1 2.3M265.3 17.6l-1.3 2.7M288.9 17.4l-1.3 2.7M298.6 21.5l-0.7 1.9M330.5 21.0l-0.7 1.9M336.6 20.6l-0.7 1.9M345.7 21.0l-0.7 1.9M348.6 20.7l-0.7 1.9M381.2 21.2l-0.7 1.9M421.9 20.6l-0.7 1.9M425.1 21.6l-0.7 1.9M430.4 21.3l-0.7 1.9M439.5 20.7l-0.7 1.9M446.1 21.3l-0.7 1.9" stroke="#202020" stroke-width="1.6" stroke-linecap="round" fill="none"/>
<path d="M268.4 10.5l0.0 1.2M298.9 9.8l0.0 1.2M302.4 10.5l0.0 1.2M305.9 10.5l0.0 1.2M311.3 10.5l0.0 1.2M323.5 10.7l0.0 1.2M329.6 9.8l0.0 1.2M353.4 9.9l0.0 1.2M367.6 9.7l0.0 1.2M384.8 9.7l0.0 1.2M390.9 10.7l0.0 1.2M406.3 9.8l0.0 1.2M427.2 10.3l0.0 1.2M433.5 9.6l0.0 1.2M444.8 10.0l0.0 1.2M454.6 9.7l0.0 1.2M272.0 11.8l-1.1 2.3M282.2 11.5l-1.1 2.3M287.8 11.6l-1.1 2.3M296.1 12.0l-1.1 2.3M299.4 11.6l-1.1 2.3M322.9 12.1l-1.1 2.3M363.3 12.2l-1.1 2.3M423.9 12.1l-1.1 2.3M438.2 11.8l-1.1 2.3M440.6 12.6l-1.1 2.3M443.4 11.9l-1.1 2.3M273.2 14.7l-1.5 3.2M279.4 14.6l-1.5 3.2M282.0 15.2l-1.5 3.2M287.4 14.1l-1.5 3.2M290.4 14.5l-1.5 3.2M298.8 14.3l-1.5 3.2M430.9 14.1l-1.5 3.2M433.6 14.3l-1.5 3.2M443.4 14.1l-1.5 3.2M271.9 18.0l-1.3 2.7M274.3 17.5l-1.3 2.7M277.0 18.0l-1.3 2.7M298.6 17.5l-1.3 2.7M311.5 18.1l-1.3 2.7M360.7 17.9l-1.3 2.7M366.1 17.9l-1.3 2.7M402.4 18.1l-1.3 2.7M414.0 17.8l-1.3 2.7M423.1 17.9l-1.3 2.7M446.0 18.2l-1.3 2.7M327.5 21.1l-0.7 1.9M334.0 21.2l-0.7 1.9M343.0 21.1l-0.7 1.9M364.8 21.5l-0.7 1.9M370.8 21.6l-0.7 1.9M374.1 21.1l-0.7 1.9M384.3 21.6l-0.7 1.9M387.9 21.2l-0.7 1.9M394.5 20.6l-0.7 1.9M406.5 21.4l-0.7 1.9M410.0 21.3l-0.7 1.9M418.5 20.7l-0.7 1.9M436.4 21.5l-0.7 1.9" stroke="#262626" stroke-width="1.6" stroke-linecap="round" fill="none"/>
<path d="M265.9 9.7l0.0 1.2M281.2 10.3l0.0 1.2M289.4 10.2l0.0 1.2M308.7 10.8l0.0 1.2M320.6 10.7l0.0 1.2M335.8 10.4l0.0 1.2M345.0 10.3l0.0 1.2M347.5 10.5l0.0 1.2M356.1 9.7l0.0 1.2M359.1 9.9l0.0 1.2M361.8 10.1l0.0 1.2M394.2 10.4l0.0 1.2M430.6 9.9l0.0 1.2M451.5 10.1l0.0 1.2M293.0 11.7l-1.1 2.3M307.5 12.4l-1.1 2.3M310.8 11.9l-1.1 2.3M316.8 12.6l-1.1 2.3M325.6 12.3l-1.1 2.3M339.9 11.8l-1.1 2.3M366.7 12.1l-1.1 2.3M421.1 12.3l-1.1 2.3M431.9 12.4l-1.1 2.3M446.3 11.8l-1.1 2.3M366.7 14.2l-1.5 3.2M394.2 14.1l-1.5 3.2M419.0 14.6l-1.5 3.2M421.5 15.1l-1.5 3.2M428.3 14.6l-1.5 3.2M449.6 14.5l-1.5 3.2M452.5 15.0l-1.5 3.2M268.6 17.5l-1.3 2.7M280.1 18.1l-1.3 2.7M292.1 17.5l-1.3 2.7M329.3 17.5l-1.3 2.7M332.3 17.8l-1.3 2.7M351.7 17.6l-1.3 2.7M354.5 18.1l-1.3 2.7M363.3 18.0l-1.3 2.7M384.2 17.3l-1.3 2.7M387.4 18.0l-1.3 2.7M399.1 18.4l-1.3 2.7M416.6 17.6l-1.3 2.7M428.2 18.0l-1.3 2.7M443.5 18.4l-1.3 2.7M361.6 20.8l-0.7 1.9M367.8 21.1l-0.7 1.9M391.2 20.9l-0.7 1.9M397.7 21.0l-0.7 1.9M415.4 20.9l-0.7 1.9" stroke="#2d2d2d" stroke-width="1.6" stroke-linecap="round" fill="none"/>
<path d="M420.9 10.7l0.0 1.2M305.1 12.3l-1.1 2.3M313.8 11.8l-1.1 2.3M331.6 12.7l-1.1 2.3M376.8 12.4l-1.1 2.3M408.2 11.8l-1.1 2.3M411.3 11.7l-1.1 2.3M429.0 12.4l-1.1 2.3M264.0 14.4l-1.5 3.2M267.1 14.8l-1.5 3.2M270.0 14.1l-1.5 3.2M276.6 14.8l-1.5 3.2M311.1 15.1l-1.5 3.2M325.1 14.8l-1.5 3.2M337.5 14.0l-1.5 3.2M346.8 15.0l-1.5 3.2M354.8 14.3l-1.5 3.2M360.3 14.3l-1.5 3.2M397.8 15.1l-1.5 3.2M416.0 14.6l-1.5 3.2M446.8 14.3l-1.5 3.2M286.5 18.0l-1.3 2.7M302.0 17.6l-1.3 2.7M305.4 17.7l-1.3 2.7M326.4 17.7l-1.3 2.7M335.4 17.4l-1.3 2.7M344.9 17.5l-1.3 2.7M348.3 17.3l-1.3 2.7M395.8 17.9l-1.3 2.7M440.1 18.2l-1.3 2.7M448.4 18.4l-1.3 2.7M351.9 21.4l-0.7 1.9M358.5 21.1l-0.7 1.9M377.6 21.2l-0.7 1.9M400.7 21.4l-0.7 1.9M403.6 21.1l-0.7 1.9" stroke="#333333" stroke-width="1.6" stroke-linecap="round" fill="none"/>
<path d="M320.2 12.5l-1.1 2.3M329.1 12.4l-1.1 2.3M334.2 11.5l-1.1 2.3M357.0 12.7l-1.1 2.3M369.7 12.3l-1.1 2.3M388.3 12.3l-1.1 2.3M417.8 12.3l-1.1 2.3M284.6 14.5l-1.5 3.2M296.0 15.1l-1.5 3.2M301.5 14.5l-1.5 3.2M307.7 14.5l-1.5 3.2M314.6 14.8l-1.5 3.2M328.3 14.5l-1.5 3.2M340.3 15.1l-1.5 3.2M349.7 14.8l-1.5 3.2M352.2 15.1l-1.5 3.2M363.4 14.5l-1.5 3.2M406.3 14.2l-1.5 3.2M424.9 14.8l-1.5 3.2M436.4 15.0l-1.5 3.2M439.9 14.6l-1.5 3.2M295.6 18.3l-1.3 2.7M308.3 17.8l-1.3 2.7M317.1 17.7l-1.3 2.7M357.3 17.7l-1.3 2.7M390.2 18.4l-1.3 2.7M393.1 17.7l-1.3 2.7M405.2 17.4l-1.3 2.7M408.3 18.2l-1.3 2.7M419.6 18.0l-1.3 2.7M425.7 17.8l-1.3 2.7M436.5 17.7l-1.3 2.7M451.6 17.3l-1.3 2.7" stroke="#393939" stroke-width="1.6" stroke-linecap="round" fill="none"/>
<path d="M345.5 11.6l-1.1 2.3M351.1 12.3l-1.1 2.3M360.4 11.6l-1.1 2.3M382.7 12.0l-1.1 2.3M391.7 12.4l-1.1 2.3M399.8 12.4l-1.1 2.3M402.4 12.2l-1.1 2.3M405.1 11.6l-1.1 2.3M293.1 15.1l-1.5 3.2M304.3 14.3l-1.5 3.2M357.5 14.3l-1.5 3.2M370.1 14.9l-1.5 3.2M372.7 15.0l-1.5 3.2M391.2 14.5l-1.5 3.2M314.3 17.5l-1.3 2.7M323.4 18.2l-1.3 2.7M341.6 18.3l-1.3 2.7M369.6 17.8l-1.3 2.7M411.3 18.1l-1.3 2.7M431.2 17.7l-1.3 2.7M434.0 18.0l-1.3 2.7" stroke="#404040" stroke-width="1.6" stroke-linecap="round" fill="none"/>
<path d="M342.6 12.3l-1.1 2.3M373.3 12.0l-1.1 2.3M380.0 12.5l-1.1 2.3M394.2 12.3l-1.1 2.3M397.3 12.5l-1.1 2.3M318.1 14.9l-1.5 3.2M381.3 14.4l-1.5 3.2M384.8 14.7l-1.5 3.2M408.9 14.1l-1.5 3.2M412.5 14.1l-1.5 3.2M320.1 17.5l-1.3 2.7M338.5 17.5l-1.3 2.7M378.4 18.3l-1.3 2.7M381.5 17.9l-1.3 2.7" stroke="#464646" stroke-width="1.6" stroke-linecap="round" fill="none"/>
<path d="M336.7 12.7l-1.1 2.3M385.9 12.2l-1.1 2.3M321.5 14.9l-1.5 3.2M343.7 14.5l-1.5 3.2M375.5 14.7l-1.5 3.2M403.8 14.0l-1.5 3.2M373.0 17.4l-1.3 2.7M375.7 18.4l-1.3 2.7" stroke="#4d4d4d" stroke-width="1.6" stroke-linecap="round" fill="none"/>
<path d="M348.6 12.4l-1.1 2.3M353.8 12.0l-1.1 2.3M330.9 14.4l-1.5 3.2M333.9 14.2l-1.5 3.2M401.0 14.1l-1.5 3.2" stroke="#535353" stroke-width="1.6" stroke-linecap="round" fill="none"/>
<path d="M378.4 14.5l-1.5 3.2M387.8 15.2l-1.5 3.2" stroke="#595959" stroke-width="1.6" stroke-linecap="round" fill="none"/>
</g>
<rect x="330.0" y="23.80" width="55.0" height="3.00" rx="8.0" ry="1.50" fill="url(#hg12)" filter="url(#bl5)"/>
<ellipse cx="328.5" cy="33.6" rx="2.2" ry="1.1" fill="#666666" filter="url(#bl5)"/>
<rect x="332.0" y="37.40" width="50.0" height="2.20" rx="8.0" ry="1.10" fill="url(#hg13)" filter="url(#bl5)"/>
<rect x="343.0" y="52.70" width="31.0" height="1.20" rx="8.0" ry="0.60" fill="url(#hg14)" filter="url(#bl6)"/>
<rect x="268.0" y="59.10" width="184.0" height="2.60" rx="8.0" ry="1.30" fill="url(#hg15)" filter="url(#bl7)"/>
</g>
</g>
<rect x="263.2" y="9.3" width="191.4" height="66.2" fill="none" stroke="#00004a" stroke-width="0.8" opacity="0.7"/>
<rect x="262.8" y="4.4" width="192.2" height="4.8" fill="url(#topglow)"/>
<text x="259.5" y="9.5" font-size="9.6" text-anchor="end" dominant-baseline="central" font-weight="normal" fill="#3c3c3c" stroke="#3c3c3c" stroke-width="0.30">0</text>
<text x="259.5" y="34.2" font-size="9.6" text-anchor="end" dominant-baseline="central" font-weight="normal" fill="#3c3c3c" stroke="#3c3c3c" stroke-width="0.30">5</text>
<text x="259.5" y="59.3" font-size="9.6" text-anchor="end" dominant-baseline="central" font-weight="normal" fill="#3c3c3c" stroke="#3c3c3c" stroke-width="0.30">10</text>
<text x="308.3" y="84.5" font-size="9.6" text-anchor="middle" dominant-baseline="central" font-weight="normal" fill="#3c3c3c" stroke="#3c3c3c" stroke-width="0.30" textLength="14.0" lengthAdjust="spacingAndGlyphs">-10</text>
<text x="358.7" y="84.5" font-size="9.6" text-anchor="middle" dominant-baseline="central" font-weight="normal" fill="#3c3c3c" stroke="#3c3c3c" stroke-width="0.30">0</text>
<text x="409.6" y="84.5" font-size="9.6" text-anchor="middle" dominant-baseline="central" font-weight="normal" fill="#3c3c3c" stroke="#3c3c3c" stroke-width="0.30">10</text>
<text x="358.9" y="97.5" font-size="10.8" text-anchor="middle" dominant-baseline="central" font-weight="normal" fill="#3c3c3c" stroke="#3c3c3c" stroke-width="0.30" textLength="30.0" lengthAdjust="spacingAndGlyphs">x(mm)</text>
<text x="240.6" y="42.1" font-size="7.8" text-anchor="middle" dominant-baseline="central" font-weight="normal" fill="#3c3c3c" stroke="#3c3c3c" stroke-width="0.30" textLength="29.5" lengthAdjust="spacingAndGlyphs" transform="rotate(-90 240.6 42.1)">z(mm)</text>
<text x="361.2" y="117.6" font-size="12.0" text-anchor="middle" dominant-baseline="central" font-weight="normal" fill="#3c3c3c" stroke="#3c3c3c" stroke-width="0.45">(b)</text>
<g clip-path="url(#cp22)"><g filter="url(#jet)">
<rect x="36.9" y="133.7" width="192.1" height="67.1" fill="#090909" opacity="1.00"/>
<g><rect x="37.0" y="134.5" width="192.0" height="16.5" fill="url(#vg17)" filter="url(#bl0)"/></g>
<g filter="url(#bl1)">
<path d="M80.5 146.0l0.3 1.8M209.6 145.6l0.3 1.8" stroke="#131313" stroke-width="1.5" stroke-linecap="round" fill="none"/>
<path d="M54.1 142.1l0.9 2.0" stroke="#131313" stroke-width="1.6" stroke-linecap="round" fill="none"/>
<path d="M200.8 145.3l0.3 1.8M203.8 145.9l0.3 1.8" stroke="#1a1a1a" stroke-width="1.5" stroke-linecap="round" fill="none"/>
<path d="M38.6 142.3l0.9 2.0M41.8 142.4l0.9 2.0M45.1 142.0l0.9 2.0M57.5 142.4l0.9 2.0M68.0 142.3l0.9 2.0M214.1 142.2l0.9 2.0M217.1 142.5l0.9 2.0M223.5 142.2l0.9 2.0M227.1 142.3l0.9 2.0" stroke="#1a1a1a" stroke-width="1.6" stroke-linecap="round" fill="none"/>
<path d="M83.8 146.1l0.3 1.8M93.3 145.8l0.3 1.8M143.5 145.2l0.3 1.8M152.8 145.4l0.3 1.8M155.6 145.6l0.3 1.8M207.2 145.6l0.3 1.8" stroke="#202020" stroke-width="1.5" stroke-linecap="round" fill="none"/>
<path d="M51.4 142.5l0.9 2.0M60.1 142.0l0.9 2.0M63.0 141.8l0.9 2.0M65.5 142.4l0.9 2.0M220.4 142.6l0.9 2.0" stroke="#202020" stroke-width="1.6" stroke-linecap="round" fill="none"/>
<path d="M86.9 145.6l0.3 1.8M89.8 146.0l0.3 1.8M107.8 145.4l0.3 1.8M113.4 145.3l0.3 1.8M116.3 145.1l0.3 1.8M169.8 145.8l0.3 1.8M176.3 145.1l0.3 1.8M194.3 145.3l0.3 1.8" stroke="#262626" stroke-width="1.5" stroke-linecap="round" fill="none"/>
<path d="M48.6 142.2l0.9 2.0M73.7 141.8l0.9 2.0M77.3 141.9l0.9 2.0M80.3 142.6l0.9 2.0M83.1 141.9l0.9 2.0M100.8 141.9l0.9 2.0M103.4 141.9l0.9 2.0M146.3 142.4l0.9 2.0" stroke="#262626" stroke-width="1.6" stroke-linecap="round" fill="none"/>
<path d="M125.8 145.5l0.3 1.8M132.2 145.5l0.3 1.8M146.8 146.1l0.3 1.8M158.1 145.2l0.3 1.8M161.5 145.2l0.3 1.8M163.9 145.7l0.3 1.8M173.2 145.9l0.3 1.8M182.2 145.7l0.3 1.8M188.6 145.1l0.3 1.8M197.2 145.5l0.3 1.8" stroke="#2d2d2d" stroke-width="1.5" stroke-linecap="round" fill="none"/>
<path d="M86.4 142.7l0.9 2.0M92.0 142.8l0.9 2.0M95.2 141.9l0.9 2.0M133.9 142.7l0.9 2.0M162.1 142.3l0.9 2.0M165.6 142.5l0.9 2.0M168.1 142.6l0.9 2.0M170.8 142.0l0.9 2.0M188.9 141.8l0.9 2.0M192.5 142.9l0.9 2.0M204.8 141.9l0.9 2.0M210.8 142.4l0.9 2.0" stroke="#2d2d2d" stroke-width="1.6" stroke-linecap="round" fill="none"/>
<path d="M96.2 146.0l0.3 1.8M99.0 145.1l0.3 1.8M101.5 145.3l0.3 1.8M104.5 145.0l0.3 1.8M128.8 145.3l0.3 1.8M140.9 145.6l0.3 1.8M178.7 146.0l0.3 1.8M191.2 146.1l0.3 1.8" stroke="#333333" stroke-width="1.5" stroke-linecap="round" fill="none"/>
<path d="M70.9 141.9l0.9 2.0M110.2 142.8l0.9 2.0M118.9 142.8l0.9 2.0M121.5 142.2l0.9 2.0M136.9 142.0l0.9 2.0M185.5 141.9l0.9 2.0M195.0 142.1l0.9 2.0M208.2 142.8l0.9 2.0" stroke="#333333" stroke-width="1.6" stroke-linecap="round" fill="none"/>
<path d="M60.2 135.3l0.0 1.0M47.7 137.4l0.8 2.1M222.8 139.1l0.9 2.0M225.3 139.2l0.9 2.0" stroke="#333333" stroke-width="1.7" stroke-linecap="round" fill="none"/>
<path d="M110.6 145.8l0.3 1.8M119.6 146.1l0.3 1.8M135.7 145.3l0.3 1.8M138.4 144.9l0.3 1.8M185.7 145.6l0.3 1.8" stroke="#393939" stroke-width="1.5" stroke-linecap="round" fill="none"/>
<path d="M116.4 142.9l0.9 2.0M143.0 142.0l0.9 2.0M198.4 142.6l0.9 2.0" stroke="#393939" stroke-width="1.6" stroke-linecap="round" fill="none"/>
<path d="M73.2 134.5l0.0 1.0M219.6 135.4l0.0 1.0M80.3 137.0l0.8 2.1M39.5 139.7l0.9 2.0M49.0 139.9l0.9 2.0M61.4 139.2l0.9 2.0" stroke="#393939" stroke-width="1.7" stroke-linecap="round" fill="none"/>
<path d="M123.2 145.4l0.3 1.8M150.2 145.0l0.3 1.8M167.2 145.9l0.3 1.8" stroke="#404040" stroke-width="1.5" stroke-linecap="round" fill="none"/>
<path d="M89.3 142.2l0.9 2.0M140.2 142.7l0.9 2.0M179.8 142.7l0.9 2.0M201.7 142.2l0.9 2.0" stroke="#404040" stroke-width="1.6" stroke-linecap="round" fill="none"/>
<path d="M37.7 134.7l0.0 1.0M40.8 134.4l0.0 1.0M49.3 135.1l0.0 1.0M79.0 134.9l0.0 1.0M81.9 135.0l0.0 1.0M91.7 135.3l0.0 1.0M98.5 135.3l0.0 1.0M123.2 135.0l0.0 1.0M41.9 136.5l0.8 2.1M57.7 136.6l0.8 2.1M83.7 136.6l0.8 2.1M45.5 139.9l0.9 2.0M52.5 139.3l0.9 2.0M81.0 139.7l0.9 2.0M130.0 139.9l0.9 2.0M139.6 139.6l0.9 2.0M162.5 139.5l0.9 2.0M219.8 139.9l0.9 2.0" stroke="#404040" stroke-width="1.7" stroke-linecap="round" fill="none"/>
<path d="M98.4 142.5l0.9 2.0M106.6 142.0l0.9 2.0M113.7 141.8l0.9 2.0M128.0 142.8l0.9 2.0M149.6 141.9l0.9 2.0M159.2 142.2l0.9 2.0M174.0 141.8l0.9 2.0" stroke="#464646" stroke-width="1.6" stroke-linecap="round" fill="none"/>
<path d="M43.3 134.6l0.0 1.0M51.9 135.3l0.0 1.0M69.8 135.4l0.0 1.0M101.6 134.4l0.0 1.0M125.7 134.8l0.0 1.0M128.8 134.4l0.0 1.0M165.0 135.1l0.0 1.0M188.3 134.7l0.0 1.0M194.5 134.7l0.0 1.0M200.4 134.9l0.0 1.0M205.6 135.3l0.0 1.0M211.4 135.3l0.0 1.0M91.9 136.4l0.8 2.1M105.5 136.9l0.8 2.1M149.3 136.4l0.8 2.1M152.7 136.4l0.8 2.1M221.7 136.3l0.8 2.1M227.5 137.2l0.8 2.1M78.0 139.5l0.9 2.0M87.1 139.8l0.9 2.0M120.9 139.4l0.9 2.0M156.1 139.5l0.9 2.0M167.8 139.9l0.9 2.0M180.1 140.0l0.9 2.0M202.2 139.3l0.9 2.0" stroke="#464646" stroke-width="1.7" stroke-linecap="round" fill="none"/>
<path d="M124.7 142.0l0.9 2.0M131.0 142.2l0.9 2.0M152.3 142.6l0.9 2.0M155.7 142.3l0.9 2.0M182.9 142.4l0.9 2.0" stroke="#4d4d4d" stroke-width="1.6" stroke-linecap="round" fill="none"/>
<path d="M45.9 134.9l0.0 1.0M54.9 135.1l0.0 1.0M57.4 135.0l0.0 1.0M63.2 135.4l0.0 1.0M108.4 134.5l0.0 1.0M116.9 135.4l0.0 1.0M132.2 135.5l0.0 1.0M135.7 134.9l0.0 1.0M147.5 135.5l0.0 1.0M182.4 135.3l0.0 1.0M185.1 134.8l0.0 1.0M214.1 134.8l0.0 1.0M217.0 135.4l0.0 1.0M39.1 136.9l0.8 2.1M44.4 136.6l0.8 2.1M70.5 136.5l0.8 2.1M173.8 136.7l0.8 2.1M200.8 136.4l0.8 2.1M209.7 137.0l0.8 2.1M212.5 137.1l0.8 2.1M224.7 136.5l0.8 2.1M42.5 140.0l0.9 2.0M55.2 139.8l0.9 2.0M84.5 139.7l0.9 2.0M107.6 139.9l0.9 2.0M136.1 139.5l0.9 2.0M148.4 140.0l0.9 2.0M150.9 139.1l0.9 2.0M173.7 139.7l0.9 2.0M204.7 140.1l0.9 2.0" stroke="#4d4d4d" stroke-width="1.7" stroke-linecap="round" fill="none"/>
<path d="M66.4 134.8l0.0 1.0M113.6 134.4l0.0 1.0M120.5 135.5l0.0 1.0M144.8 135.2l0.0 1.0M168.5 134.8l0.0 1.0M171.6 134.7l0.0 1.0M174.4 135.0l0.0 1.0M177.2 135.2l0.0 1.0M54.4 136.3l0.8 2.1M60.9 136.8l0.8 2.1M99.6 137.0l0.8 2.1M170.3 137.2l0.8 2.1M216.1 137.1l0.8 2.1M75.6 139.8l0.9 2.0M145.1 139.7l0.9 2.0M188.4 139.6l0.9 2.0M191.1 139.0l0.9 2.0M213.5 139.9l0.9 2.0M216.3 140.1l0.9 2.0" stroke="#535353" stroke-width="1.7" stroke-linecap="round" fill="none"/>
<path d="M176.7 142.1l0.9 2.0" stroke="#595959" stroke-width="1.6" stroke-linecap="round" fill="none"/>
<path d="M75.9 134.8l0.0 1.0M85.0 135.1l0.0 1.0M88.5 135.5l0.0 1.0M95.3 135.0l0.0 1.0M111.2 135.3l0.0 1.0M138.7 135.0l0.0 1.0M141.8 135.4l0.0 1.0M150.5 134.3l0.0 1.0M153.4 134.3l0.0 1.0M159.7 135.1l0.0 1.0M179.6 135.2l0.0 1.0M64.5 136.7l0.8 2.1M102.7 136.5l0.8 2.1M108.8 136.4l0.8 2.1M111.4 137.0l0.8 2.1M114.7 137.2l0.8 2.1M137.0 136.8l0.8 2.1M58.8 139.3l0.9 2.0M64.6 140.1l0.9 2.0M70.2 139.1l0.9 2.0M104.6 139.1l0.9 2.0M127.4 139.4l0.9 2.0M165.1 139.7l0.9 2.0M183.0 139.9l0.9 2.0M194.1 139.5l0.9 2.0M210.0 139.7l0.9 2.0" stroke="#595959" stroke-width="1.7" stroke-linecap="round" fill="none"/>
<path d="M105.1 134.4l0.0 1.0M156.6 134.4l0.0 1.0M203.0 135.3l0.0 1.0M208.8 134.7l0.0 1.0M223.0 134.8l0.0 1.0M226.6 134.6l0.0 1.0M51.0 137.3l0.8 2.1M86.4 136.8l0.8 2.1M96.9 136.6l0.8 2.1M117.9 136.7l0.8 2.1M130.1 137.3l0.8 2.1M133.6 137.3l0.8 2.1M179.5 137.0l0.8 2.1M185.7 136.8l0.8 2.1M67.3 139.4l0.9 2.0M72.7 139.4l0.9 2.0M98.6 140.0l0.9 2.0M110.8 139.2l0.9 2.0M114.0 139.2l0.9 2.0M124.2 139.7l0.9 2.0M133.3 139.9l0.9 2.0M176.8 140.2l0.9 2.0M199.7 139.8l0.9 2.0M207.5 139.8l0.9 2.0" stroke="#606060" stroke-width="1.7" stroke-linecap="round" fill="none"/>
<path d="M162.5 135.2l0.0 1.0M191.1 134.8l0.0 1.0M197.7 134.8l0.0 1.0M124.1 136.6l0.8 2.1M182.8 136.7l0.8 2.1M197.3 137.0l0.8 2.1M89.6 140.1l0.9 2.0M95.4 139.4l0.9 2.0M101.4 140.2l0.9 2.0M117.4 139.2l0.9 2.0M170.2 140.1l0.9 2.0M185.5 139.8l0.9 2.0" stroke="#666666" stroke-width="1.7" stroke-linecap="round" fill="none"/>
<path d="M67.2 136.8l0.8 2.1M73.5 136.5l0.8 2.1M89.4 136.3l0.8 2.1M146.2 136.4l0.8 2.1M188.2 137.4l0.8 2.1M92.1 139.5l0.9 2.0M142.3 139.4l0.9 2.0M153.5 139.9l0.9 2.0M159.4 139.9l0.9 2.0M197.2 140.1l0.9 2.0" stroke="#6c6c6c" stroke-width="1.7" stroke-linecap="round" fill="none"/>
<path d="M76.9 137.2l0.8 2.1M120.9 136.8l0.8 2.1M127.2 136.4l0.8 2.1M164.6 137.2l0.8 2.1M207.0 136.5l0.8 2.1M219.0 137.0l0.8 2.1" stroke="#737373" stroke-width="1.7" stroke-linecap="round" fill="none"/>
<path d="M161.0 137.3l0.8 2.1" stroke="#797979" stroke-width="1.7" stroke-linecap="round" fill="none"/>
<path d="M94.4 137.3l0.8 2.1M139.5 137.1l0.8 2.1M143.0 137.1l0.8 2.1M167.0 136.9l0.8 2.1M191.1 136.5l0.8 2.1M194.3 137.1l0.8 2.1" stroke="#808080" stroke-width="1.7" stroke-linecap="round" fill="none"/>
<path d="M155.2 136.5l0.8 2.1M157.6 136.4l0.8 2.1M204.1 136.9l0.8 2.1" stroke="#868686" stroke-width="1.7" stroke-linecap="round" fill="none"/>
<path d="M176.9 136.6l0.8 2.1" stroke="#8c8c8c" stroke-width="1.7" stroke-linecap="round" fill="none"/>
</g>
<rect x="104.0" y="148.30" width="54.0" height="3.40" rx="8.0" ry="1.70" fill="url(#hg18)" filter="url(#bl5)"/>
<ellipse cx="101.5" cy="158.4" rx="2.2" ry="1.1" fill="#6b6b6b" filter="url(#bl5)"/>
<rect x="108.0" y="161.90" width="47.0" height="2.20" rx="8.0" ry="1.10" fill="url(#hg19)" filter="url(#bl5)"/>
<rect x="115.0" y="177.10" width="29.0" height="1.20" rx="8.0" ry="0.60" fill="url(#hg20)" filter="url(#bl6)"/>
<rect x="42.0" y="184.00" width="184.0" height="2.60" rx="8.0" ry="1.30" fill="url(#hg21)" filter="url(#bl7)"/>
</g>
</g>
<rect x="37.3" y="134.1" width="191.3" height="66.3" fill="none" stroke="#00004a" stroke-width="0.8" opacity="0.7"/>
<rect x="36.9" y="129.2" width="192.1" height="4.8" fill="url(#topglow)"/>
<text x="33.5" y="134.1" font-size="9.6" text-anchor="end" dominant-baseline="central" font-weight="normal" fill="#3c3c3c" stroke="#3c3c3c" stroke-width="0.30">0</text>
<text x="33.5" y="159.3" font-size="9.6" text-anchor="end" dominant-baseline="central" font-weight="normal" fill="#3c3c3c" stroke="#3c3c3c" stroke-width="0.30">5</text>
<text x="33.5" y="184.3" font-size="9.6" text-anchor="end" dominant-baseline="central" font-weight="normal" fill="#3c3c3c" stroke="#3c3c3c" stroke-width="0.30">10</text>
<text x="81.6" y="209.5" font-size="9.6" text-anchor="middle" dominant-baseline="central" font-weight="normal" fill="#3c3c3c" stroke="#3c3c3c" stroke-width="0.30" textLength="14.0" lengthAdjust="spacingAndGlyphs">-10</text>
<text x="133.0" y="209.5" font-size="9.6" text-anchor="middle" dominant-baseline="central" font-weight="normal" fill="#3c3c3c" stroke="#3c3c3c" stroke-width="0.30">0</text>
<text x="184.2" y="209.5" font-size="9.6" text-anchor="middle" dominant-baseline="central" font-weight="normal" fill="#3c3c3c" stroke="#3c3c3c" stroke-width="0.30">10</text>
<text x="132.9" y="222.5" font-size="10.8" text-anchor="middle" dominant-baseline="central" font-weight="normal" fill="#3c3c3c" stroke="#3c3c3c" stroke-width="0.30" textLength="30.0" lengthAdjust="spacingAndGlyphs">x(mm)</text>
<text x="13.5" y="166.9" font-size="7.8" text-anchor="middle" dominant-baseline="central" font-weight="normal" fill="#3c3c3c" stroke="#3c3c3c" stroke-width="0.30" textLength="29.5" lengthAdjust="spacingAndGlyphs" transform="rotate(-90 13.5 166.9)">z(mm)</text>
<text x="130.6" y="242.6" font-size="12.0" text-anchor="middle" dominant-baseline="central" font-weight="normal" fill="#3c3c3c" stroke="#3c3c3c" stroke-width="0.45">(c)</text>
<g clip-path="url(#cp31)"><g filter="url(#jet)">
<rect x="263.5" y="133.7" width="192.5" height="67.1" fill="#090909" opacity="1.00"/>
<g mask="url(#mk24)"><rect x="263.5" y="134.5" width="192.5" height="14.5" fill="url(#vg23)" filter="url(#bl0)"/></g>
<rect x="263.5" y="134.10" width="192.5" height="3.00" rx="0.5" ry="1.50" fill="url(#hg26)" filter="url(#bl8)"/>
<g filter="url(#bl1)">
<path d="M284.3 142.6l-0.7 1.9" stroke="#0d0d0d" stroke-width="1.5" stroke-linecap="round" fill="none"/>
<path d="M267.5 139.4l-0.7 1.9M281.7 142.2l-0.7 1.9M287.6 141.8l-0.7 1.9" stroke="#131313" stroke-width="1.5" stroke-linecap="round" fill="none"/>
<path d="M285.8 140.0l-0.7 1.9M290.3 142.7l-0.7 1.9M295.9 142.4l-0.7 1.9M304.4 142.0l-0.7 1.9M307.3 142.4l-0.7 1.9M309.9 142.5l-0.7 1.9M280.2 145.3l-0.3 1.8M283.2 145.5l-0.3 1.8M288.7 144.7l-0.3 1.8M291.1 144.6l-0.3 1.8M297.5 145.2l-0.3 1.8M301.0 145.5l-0.3 1.8M322.0 145.0l-0.3 1.8M331.8 145.3l-0.3 1.8" stroke="#1a1a1a" stroke-width="1.5" stroke-linecap="round" fill="none"/>
<path d="M263.9 139.3l-0.7 1.9M274.0 140.1l-0.7 1.9M289.3 140.0l-0.7 1.9M295.9 140.3l-0.7 1.9M293.3 142.3l-0.7 1.9M299.0 141.7l-0.7 1.9M302.0 141.8l-0.7 1.9M315.7 142.3l-0.7 1.9M318.8 142.7l-0.7 1.9M364.7 141.7l-0.7 1.9M448.6 142.9l-0.7 1.9M286.2 144.9l-0.3 1.8M294.0 145.3l-0.3 1.8M315.8 144.5l-0.3 1.8M325.4 144.9l-0.3 1.8M337.8 144.8l-0.3 1.8M362.7 145.6l-0.3 1.8" stroke="#202020" stroke-width="1.5" stroke-linecap="round" fill="none"/>
<path d="M270.9 139.5l-0.7 1.9M276.6 140.5l-0.7 1.9M299.1 140.3l-0.7 1.9M302.3 140.3l-0.7 1.9M320.2 140.2l-0.7 1.9M332.8 140.1l-0.7 1.9M321.4 141.8l-0.7 1.9M324.9 142.8l-0.7 1.9M376.3 142.2l-0.7 1.9M378.9 142.6l-0.7 1.9M384.8 142.4l-0.7 1.9M430.7 141.7l-0.7 1.9M434.1 142.4l-0.7 1.9M303.5 145.5l-0.3 1.8M307.1 145.3l-0.3 1.8M310.0 145.5l-0.3 1.8M313.1 145.5l-0.3 1.8M319.3 145.2l-0.3 1.8M335.1 145.3l-0.3 1.8M360.1 145.2l-0.3 1.8M375.7 144.5l-0.3 1.8M447.7 145.1l-0.3 1.8" stroke="#262626" stroke-width="1.5" stroke-linecap="round" fill="none"/>
<path d="M279.8 140.4l-0.7 1.9M282.7 140.3l-0.7 1.9M292.8 139.3l-0.7 1.9M344.5 139.8l-0.7 1.9M433.1 139.4l-0.7 1.9M446.5 139.5l-0.7 1.9M452.9 139.6l-0.7 1.9M313.0 142.8l-0.7 1.9M327.4 142.4l-0.7 1.9M335.5 142.0l-0.7 1.9M338.0 142.7l-0.7 1.9M340.6 142.0l-0.7 1.9M346.6 141.7l-0.7 1.9M352.1 141.8l-0.7 1.9M399.5 142.2l-0.7 1.9M405.8 142.8l-0.7 1.9M427.1 141.8l-0.7 1.9M437.2 142.0l-0.7 1.9M455.1 142.1l-0.7 1.9M328.3 144.6l-0.3 1.8M350.4 145.0l-0.3 1.8M366.2 144.5l-0.3 1.8M384.4 144.4l-0.3 1.8M444.6 144.9l-0.3 1.8" stroke="#2d2d2d" stroke-width="1.5" stroke-linecap="round" fill="none"/>
<path d="M371.5 140.2l-0.7 1.9M385.8 139.6l-0.7 1.9M389.3 140.4l-0.7 1.9M395.5 140.3l-0.7 1.9M418.2 140.3l-0.7 1.9M329.9 142.7l-0.7 1.9M332.4 142.6l-0.7 1.9M367.4 142.2l-0.7 1.9M373.1 142.3l-0.7 1.9M381.7 142.0l-0.7 1.9M393.4 142.6l-0.7 1.9M412.0 142.0l-0.7 1.9M414.8 142.0l-0.7 1.9M440.7 142.0l-0.7 1.9M340.5 145.1l-0.3 1.8M398.6 144.5l-0.3 1.8M423.4 145.0l-0.3 1.8M432.9 144.4l-0.3 1.8" stroke="#333333" stroke-width="1.5" stroke-linecap="round" fill="none"/>
<path d="M305.7 140.3l-0.7 1.9M308.9 140.0l-0.7 1.9M314.5 139.9l-0.7 1.9M317.5 139.6l-0.7 1.9M335.2 139.4l-0.7 1.9M341.4 139.7l-0.7 1.9M365.6 139.9l-0.7 1.9M368.0 139.6l-0.7 1.9M376.5 140.4l-0.7 1.9M401.4 139.5l-0.7 1.9M411.0 139.5l-0.7 1.9M423.9 139.4l-0.7 1.9M435.7 139.9l-0.7 1.9M443.8 140.4l-0.7 1.9M343.9 142.7l-0.7 1.9M349.6 142.7l-0.7 1.9M370.0 142.5l-0.7 1.9M390.6 142.2l-0.7 1.9M396.4 142.0l-0.7 1.9M402.7 142.4l-0.7 1.9M417.4 142.0l-0.7 1.9M451.6 142.3l-0.7 1.9M343.7 145.3l-0.3 1.8M347.1 145.5l-0.3 1.8M353.7 145.5l-0.3 1.8M357.0 144.7l-0.3 1.8M396.0 145.2l-0.3 1.8M402.0 145.3l-0.3 1.8M405.5 144.7l-0.3 1.8M435.8 145.5l-0.3 1.8M441.1 145.5l-0.3 1.8" stroke="#393939" stroke-width="1.5" stroke-linecap="round" fill="none"/>
<path d="M312.0 139.7l-0.7 1.9M323.6 139.4l-0.7 1.9M354.1 139.5l-0.7 1.9M382.3 139.8l-0.7 1.9M403.9 139.7l-0.7 1.9M456.1 139.4l-0.7 1.9M355.0 142.0l-0.7 1.9M358.5 142.6l-0.7 1.9M361.1 142.8l-0.7 1.9M409.0 142.8l-0.7 1.9M420.2 142.0l-0.7 1.9M443.7 142.0l-0.7 1.9M446.2 141.8l-0.7 1.9M369.5 144.6l-0.3 1.8M389.4 144.8l-0.3 1.8M408.2 144.9l-0.3 1.8M426.9 145.4l-0.3 1.8M429.7 144.7l-0.3 1.8M438.5 145.4l-0.3 1.8" stroke="#404040" stroke-width="1.5" stroke-linecap="round" fill="none"/>
<path d="M265.1 137.1l0.0 1.2" stroke="#404040" stroke-width="1.6" stroke-linecap="round" fill="none"/>
<path d="M327.2 139.9l-0.7 1.9M329.6 140.0l-0.7 1.9M426.9 139.9l-0.7 1.9M387.3 141.8l-0.7 1.9M423.7 142.1l-0.7 1.9M372.9 145.1l-0.3 1.8M378.6 145.2l-0.3 1.8M381.3 144.5l-0.3 1.8M392.5 145.3l-0.3 1.8M417.5 144.9l-0.3 1.8" stroke="#464646" stroke-width="1.5" stroke-linecap="round" fill="none"/>
<path d="M271.3 137.5l0.0 1.2" stroke="#464646" stroke-width="1.6" stroke-linecap="round" fill="none"/>
<path d="M338.0 140.2l-0.7 1.9M348.1 140.3l-0.7 1.9M350.9 140.2l-0.7 1.9M359.3 139.7l-0.7 1.9M392.0 140.1l-0.7 1.9M407.5 139.7l-0.7 1.9M421.4 140.3l-0.7 1.9M438.3 139.7l-0.7 1.9M441.2 140.4l-0.7 1.9M449.9 140.4l-0.7 1.9M387.0 144.7l-0.3 1.8M410.6 145.2l-0.3 1.8M414.1 145.3l-0.3 1.8" stroke="#4d4d4d" stroke-width="1.5" stroke-linecap="round" fill="none"/>
<path d="M283.9 137.7l0.0 1.2M287.4 137.2l0.0 1.2M310.8 137.5l0.0 1.2" stroke="#4d4d4d" stroke-width="1.6" stroke-linecap="round" fill="none"/>
<path d="M356.5 140.4l-0.7 1.9M362.4 139.6l-0.7 1.9M398.1 139.3l-0.7 1.9M429.7 140.3l-0.7 1.9M420.9 144.5l-0.3 1.8" stroke="#535353" stroke-width="1.5" stroke-linecap="round" fill="none"/>
<path d="M268.2 138.1l0.0 1.2M274.6 137.1l0.0 1.2M281.1 138.0l0.0 1.2M302.1 138.1l0.0 1.2M304.7 137.7l0.0 1.2M316.8 137.4l0.0 1.2M355.2 137.1l0.0 1.2" stroke="#535353" stroke-width="1.6" stroke-linecap="round" fill="none"/>
<path d="M374.0 139.5l-0.7 1.9M379.7 139.9l-0.7 1.9M414.6 140.1l-0.7 1.9" stroke="#595959" stroke-width="1.5" stroke-linecap="round" fill="none"/>
<path d="M336.3 138.0l0.0 1.2M341.6 138.1l0.0 1.2" stroke="#595959" stroke-width="1.6" stroke-linecap="round" fill="none"/>
<path d="M264.2 134.9l0.0 0.8M266.8 134.9l0.0 0.8M278.0 137.2l0.0 1.2M307.5 138.2l0.0 1.2M313.8 138.0l0.0 1.2M320.2 138.0l0.0 1.2M326.9 138.2l0.0 1.2M347.3 137.8l0.0 1.2M383.2 137.5l0.0 1.2M400.9 137.2l0.0 1.2M425.1 137.2l0.0 1.2M448.3 138.1l0.0 1.2" stroke="#606060" stroke-width="1.6" stroke-linecap="round" fill="none"/>
<path d="M275.6 134.8l0.0 0.8M290.6 137.7l0.0 1.2M293.5 138.0l0.0 1.2M298.7 137.6l0.0 1.2M323.8 137.9l0.0 1.2M349.8 138.2l0.0 1.2M407.6 137.2l0.0 1.2M410.3 138.2l0.0 1.2M416.5 138.2l0.0 1.2M427.6 137.2l0.0 1.2M451.0 137.9l0.0 1.2M454.4 137.6l0.0 1.2" stroke="#666666" stroke-width="1.6" stroke-linecap="round" fill="none"/>
<path d="M282.4 134.9l0.0 0.8M289.1 135.1l0.0 0.8M296.0 137.3l0.0 1.2M339.1 137.3l0.0 1.2M365.2 137.8l0.0 1.2M389.3 138.1l0.0 1.2M392.0 137.1l0.0 1.2M397.8 138.2l0.0 1.2M440.0 137.9l0.0 1.2M443.2 137.7l0.0 1.2" stroke="#6c6c6c" stroke-width="1.6" stroke-linecap="round" fill="none"/>
<path d="M273.0 134.9l0.0 0.8M295.2 135.3l0.0 0.8M333.3 137.8l0.0 1.2M352.4 137.5l0.0 1.2M371.3 137.9l0.0 1.2M374.6 138.1l0.0 1.2M394.6 137.9l0.0 1.2" stroke="#737373" stroke-width="1.6" stroke-linecap="round" fill="none"/>
<path d="M270.3 135.2l0.0 0.8M292.3 134.8l0.0 0.8M329.9 137.5l0.0 1.2M344.2 137.5l0.0 1.2M358.7 138.1l0.0 1.2M368.7 138.3l0.0 1.2M413.8 137.3l0.0 1.2M419.1 137.9l0.0 1.2M433.5 138.0l0.0 1.2M445.8 137.7l0.0 1.2" stroke="#797979" stroke-width="1.6" stroke-linecap="round" fill="none"/>
<path d="M279.1 135.2l0.0 0.8M285.6 135.2l0.0 0.8M298.7 134.9l0.0 0.8M362.1 137.3l0.0 1.2M377.3 137.6l0.0 1.2M380.4 137.9l0.0 1.2M422.1 137.4l0.0 1.2M436.7 138.2l0.0 1.2" stroke="#808080" stroke-width="1.6" stroke-linecap="round" fill="none"/>
<path d="M302.2 135.2l0.0 0.8M305.6 134.9l0.0 0.8M308.7 134.8l0.0 0.8M320.6 134.9l0.0 0.8M386.4 138.2l0.0 1.2M404.5 138.2l0.0 1.2M430.1 137.4l0.0 1.2" stroke="#868686" stroke-width="1.6" stroke-linecap="round" fill="none"/>
<path d="M313.9 134.9l0.0 0.8M317.0 134.9l0.0 0.8M331.6 135.2l0.0 0.8M334.7 134.9l0.0 0.8M446.4 135.2l0.0 0.8M453.2 135.1l0.0 0.8" stroke="#8c8c8c" stroke-width="1.6" stroke-linecap="round" fill="none"/>
<path d="M311.5 134.7l0.0 0.8M323.2 134.9l0.0 0.8" stroke="#939393" stroke-width="1.6" stroke-linecap="round" fill="none"/>
<path d="M326.0 134.9l0.0 0.8M337.3 134.7l0.0 0.8M355.8 134.9l0.0 0.8M361.8 135.2l0.0 0.8M370.7 134.8l0.0 0.8" stroke="#999999" stroke-width="1.6" stroke-linecap="round" fill="none"/>
<path d="M352.9 134.8l0.0 0.8M359.3 134.7l0.0 0.8M364.6 134.8l0.0 0.8M373.9 134.7l0.0 0.8" stroke="#9f9f9f" stroke-width="1.6" stroke-linecap="round" fill="none"/>
<path d="M329.1 134.8l0.0 0.8M376.9 135.3l0.0 0.8M408.9 134.8l0.0 0.8M434.6 134.7l0.0 0.8M437.2 135.0l0.0 0.8M456.0 135.2l0.0 0.8" stroke="#a6a6a6" stroke-width="1.6" stroke-linecap="round" fill="none"/>
<path d="M340.6 135.3l0.0 0.8M368.2 134.8l0.0 0.8M387.9 135.2l0.0 0.8M394.0 134.8l0.0 0.8M442.9 134.7l0.0 0.8M449.7 135.0l0.0 0.8" stroke="#acacac" stroke-width="1.6" stroke-linecap="round" fill="none"/>
<path d="M343.8 134.7l0.0 0.8M346.6 135.2l0.0 0.8M349.5 135.1l0.0 0.8M379.4 135.2l0.0 0.8M385.0 134.7l0.0 0.8M391.3 134.7l0.0 0.8M402.7 135.2l0.0 0.8M421.5 134.9l0.0 0.8M431.1 134.8l0.0 0.8M440.5 134.8l0.0 0.8" stroke="#b3b3b3" stroke-width="1.6" stroke-linecap="round" fill="none"/>
<path d="M415.2 135.2l0.0 0.8M425.0 134.7l0.0 0.8M428.6 135.1l0.0 0.8" stroke="#b9b9b9" stroke-width="1.6" stroke-linecap="round" fill="none"/>
<path d="M418.3 135.0l0.0 0.8" stroke="#bfbfbf" stroke-width="1.6" stroke-linecap="round" fill="none"/>
<path d="M382.3 135.0l0.0 0.8M396.7 134.8l0.0 0.8M399.2 135.0l0.0 0.8M405.9 135.1l0.0 0.8M412.4 135.3l0.0 0.8" stroke="#c6c6c6" stroke-width="1.6" stroke-linecap="round" fill="none"/>
</g>
<rect x="330.0" y="149.20" width="55.0" height="3.60" rx="8.0" ry="1.80" fill="url(#hg27)" filter="url(#bl5)"/>
<ellipse cx="328.5" cy="158.5" rx="2.2" ry="1.1" fill="#6b6b6b" filter="url(#bl5)"/>
<rect x="334.0" y="162.30" width="47.0" height="2.20" rx="8.0" ry="1.10" fill="url(#hg28)" filter="url(#bl5)"/>
<rect x="343.0" y="177.40" width="31.0" height="1.20" rx="8.0" ry="0.60" fill="url(#hg29)" filter="url(#bl6)"/>
<rect x="268.5" y="184.10" width="184.0" height="2.60" rx="8.0" ry="1.30" fill="url(#hg30)" filter="url(#bl7)"/>
</g>
<rect x="331.0" y="143.95" width="55.0" height="1.10" rx="4.0" ry="0.55" fill="#a0105a" opacity="0.85" filter="url(#bl9)"/>
<ellipse cx="360.0" cy="135.6" rx="1.1" ry="0.8" fill="#e04010" opacity="0.75" filter="url(#bl10)"/>
<ellipse cx="364.0" cy="135.6" rx="1.1" ry="0.8" fill="#e04010" opacity="0.75" filter="url(#bl10)"/>
<ellipse cx="368.0" cy="135.6" rx="1.1" ry="0.8" fill="#e04010" opacity="0.75" filter="url(#bl10)"/>
<ellipse cx="372.0" cy="135.6" rx="1.1" ry="0.8" fill="#e04010" opacity="0.75" filter="url(#bl10)"/>
<ellipse cx="376.0" cy="135.6" rx="1.1" ry="0.8" fill="#e04010" opacity="0.75" filter="url(#bl10)"/>
<ellipse cx="380.0" cy="135.6" rx="1.1" ry="0.8" fill="#e04010" opacity="0.75" filter="url(#bl10)"/>
<ellipse cx="384.0" cy="135.6" rx="1.1" ry="0.8" fill="#e04010" opacity="0.75" filter="url(#bl10)"/>
<ellipse cx="388.0" cy="135.6" rx="1.1" ry="0.8" fill="#e04010" opacity="0.75" filter="url(#bl10)"/>
<ellipse cx="392.0" cy="135.6" rx="1.1" ry="0.8" fill="#e04010" opacity="0.75" filter="url(#bl10)"/>
<ellipse cx="396.0" cy="135.6" rx="1.1" ry="0.8" fill="#e04010" opacity="0.75" filter="url(#bl10)"/>
<ellipse cx="400.0" cy="135.6" rx="1.1" ry="0.8" fill="#e04010" opacity="0.75" filter="url(#bl10)"/>
<ellipse cx="404.0" cy="135.6" rx="1.1" ry="0.8" fill="#e04010" opacity="0.75" filter="url(#bl10)"/>
<ellipse cx="408.0" cy="135.6" rx="1.1" ry="0.8" fill="#e04010" opacity="0.75" filter="url(#bl10)"/>
<ellipse cx="412.0" cy="135.6" rx="1.1" ry="0.8" fill="#e04010" opacity="0.75" filter="url(#bl10)"/>
<ellipse cx="416.0" cy="135.6" rx="1.1" ry="0.8" fill="#e04010" opacity="0.75" filter="url(#bl10)"/>
<ellipse cx="420.0" cy="135.6" rx="1.1" ry="0.8" fill="#e04010" opacity="0.75" filter="url(#bl10)"/>
<rect x="335.0" y="154.55" width="46.0" height="1.10" rx="4.0" ry="0.55" fill="#a0105a" opacity="0.75" filter="url(#bl9)"/>
</g>
<rect x="263.9" y="134.1" width="191.7" height="66.3" fill="none" stroke="#00004a" stroke-width="0.8" opacity="0.7"/>
<rect x="263.5" y="129.2" width="192.5" height="4.8" fill="url(#topglow)"/>
<text x="259.5" y="134.1" font-size="9.6" text-anchor="end" dominant-baseline="central" font-weight="normal" fill="#3c3c3c" stroke="#3c3c3c" stroke-width="0.30">0</text>
<text x="259.5" y="159.3" font-size="9.6" text-anchor="end" dominant-baseline="central" font-weight="normal" fill="#3c3c3c" stroke="#3c3c3c" stroke-width="0.30">5</text>
<text x="259.5" y="184.3" font-size="9.6" text-anchor="end" dominant-baseline="central" font-weight="normal" fill="#3c3c3c" stroke="#3c3c3c" stroke-width="0.30">10</text>
<text x="309.0" y="209.5" font-size="9.6" text-anchor="middle" dominant-baseline="central" font-weight="normal" fill="#3c3c3c" stroke="#3c3c3c" stroke-width="0.30" textLength="14.0" lengthAdjust="spacingAndGlyphs">-10</text>
<text x="359.2" y="209.5" font-size="9.6" text-anchor="middle" dominant-baseline="central" font-weight="normal" fill="#3c3c3c" stroke="#3c3c3c" stroke-width="0.30">0</text>
<text x="410.9" y="209.5" font-size="9.6" text-anchor="middle" dominant-baseline="central" font-weight="normal" fill="#3c3c3c" stroke="#3c3c3c" stroke-width="0.30">10</text>
<text x="359.8" y="222.5" font-size="10.8" text-anchor="middle" dominant-baseline="central" font-weight="normal" fill="#3c3c3c" stroke="#3c3c3c" stroke-width="0.30" textLength="30.0" lengthAdjust="spacingAndGlyphs">x(mm)</text>
<text x="240.6" y="166.9" font-size="7.8" text-anchor="middle" dominant-baseline="central" font-weight="normal" fill="#3c3c3c" stroke="#3c3c3c" stroke-width="0.30" textLength="29.5" lengthAdjust="spacingAndGlyphs" transform="rotate(-90 240.6 166.9)">z(mm)</text>
<text x="361.0" y="242.6" font-size="12.0" text-anchor="middle" dominant-baseline="central" font-weight="normal" fill="#3c3c3c" stroke="#3c3c3c" stroke-width="0.45">(d)</text>
<g clip-path="url(#cp38)"><g filter="url(#jet)">
<rect x="31.6" y="282.6" width="198.8" height="68.7" fill="#090909" opacity="1.00"/>
<g><rect x="31.5" y="283.0" width="198.9" height="21.0" fill="url(#vg32)" filter="url(#bl0)"/></g>
<g filter="url(#bl1)">
<path d="M60.4 301.9l3.0 0.5M63.1 302.2l3.0 0.5M68.6 302.0l3.0 0.5M71.7 301.2l3.0 0.5M218.3 301.3l3.0 0.5" stroke="#0d0d0d" stroke-width="1.3" stroke-linecap="round" fill="none"/>
<path d="M75.0 302.2l3.0 0.5M211.5 301.4l3.0 0.5" stroke="#131313" stroke-width="1.3" stroke-linecap="round" fill="none"/>
<path d="M66.0 301.4l3.0 0.5M77.5 301.3l3.0 0.5M80.8 301.9l3.0 0.5M85.9 301.3l3.0 0.5M88.4 301.9l3.0 0.5M98.3 301.5l3.0 0.5M106.9 302.3l3.0 0.5M109.5 301.6l3.0 0.5M115.2 301.3l3.0 0.5M133.1 301.5l3.0 0.5M147.3 302.3l3.0 0.5M155.4 302.0l3.0 0.5M205.7 302.0l3.0 0.5M214.7 301.3l3.0 0.5" stroke="#1a1a1a" stroke-width="1.3" stroke-linecap="round" fill="none"/>
<path d="M45.2 298.1l3.0 0.5" stroke="#1a1a1a" stroke-width="1.4" stroke-linecap="round" fill="none"/>
<path d="M30.8 286.4l2.8 1.0M42.6 286.8l2.8 1.0" stroke="#1a1a1a" stroke-width="1.5" stroke-linecap="round" fill="none"/>
<path d="M83.4 301.3l3.0 0.5M91.9 301.2l3.0 0.5M95.0 301.3l3.0 0.5M100.7 301.8l3.0 0.5M104.2 301.3l3.0 0.5M112.0 301.9l3.0 0.5M161.0 302.3l3.0 0.5M178.7 301.8l3.0 0.5M184.1 301.8l3.0 0.5M208.4 302.0l3.0 0.5" stroke="#202020" stroke-width="1.3" stroke-linecap="round" fill="none"/>
<path d="M36.8 289.3l3.0 0.5M46.3 289.9l3.0 0.5M39.9 298.2l3.0 0.5M42.4 298.0l3.0 0.5M75.4 297.7l3.0 0.5M147.6 297.6l3.0 0.5M174.4 298.3l3.0 0.5M180.7 297.9l3.0 0.5M218.3 297.7l3.0 0.5" stroke="#202020" stroke-width="1.4" stroke-linecap="round" fill="none"/>
<path d="M33.6 286.5l2.8 1.0M51.9 286.9l2.8 1.0M71.4 286.4l2.8 1.0M225.6 286.4l2.8 1.0" stroke="#202020" stroke-width="1.5" stroke-linecap="round" fill="none"/>
<path d="M48.0 283.5l0.0 1.0M56.2 283.2l0.0 1.0M75.1 283.4l0.0 1.0M96.4 283.4l0.0 1.0M111.7 284.3l0.0 1.0M123.0 283.4l0.0 1.0M187.1 283.9l0.0 1.0M223.5 283.4l0.0 1.0" stroke="#202020" stroke-width="1.6" stroke-linecap="round" fill="none"/>
<path d="M118.2 301.7l3.0 0.5M124.0 301.8l3.0 0.5M127.5 301.9l3.0 0.5M139.1 302.3l3.0 0.5M144.2 302.2l3.0 0.5M150.1 302.0l3.0 0.5M152.9 301.5l3.0 0.5M166.9 301.4l3.0 0.5M169.3 301.5l3.0 0.5M171.9 302.3l3.0 0.5M175.4 301.3l3.0 0.5M187.7 301.4l3.0 0.5" stroke="#262626" stroke-width="1.3" stroke-linecap="round" fill="none"/>
<path d="M49.1 289.5l3.0 0.5M52.2 289.6l3.0 0.5M66.9 289.2l3.0 0.5M78.4 289.3l3.0 0.5M89.4 290.2l3.0 0.5M103.9 289.4l3.0 0.5M121.6 289.2l3.0 0.5M172.6 290.1l3.0 0.5M207.2 289.3l3.0 0.5M214.9 289.3l3.0 0.5M48.1 297.9l3.0 0.5M57.5 297.8l3.0 0.5M63.5 298.2l3.0 0.5M72.2 297.6l3.0 0.5M80.9 298.5l3.0 0.5M83.4 298.3l3.0 0.5M88.3 297.9l3.0 0.5M96.7 297.7l3.0 0.5M121.0 298.3l3.0 0.5M132.1 297.9l3.0 0.5M138.1 297.4l3.0 0.5M158.9 298.1l3.0 0.5M171.2 297.9l3.0 0.5M212.2 297.4l3.0 0.5M214.7 297.5l3.0 0.5" stroke="#262626" stroke-width="1.4" stroke-linecap="round" fill="none"/>
<path d="M36.0 286.7l2.8 1.0M45.3 286.4l2.8 1.0M48.7 286.3l2.8 1.0M58.1 287.3l2.8 1.0M61.2 286.5l2.8 1.0M80.5 286.6l2.8 1.0M192.3 287.0l2.8 1.0M216.3 286.6l2.8 1.0M35.3 294.9l3.4 0.6M57.6 294.8l3.4 0.6M221.6 294.3l3.4 0.6" stroke="#262626" stroke-width="1.5" stroke-linecap="round" fill="none"/>
<path d="M39.1 284.3l0.0 1.0M45.0 283.9l0.0 1.0M59.5 283.5l0.0 1.0M77.5 283.9l0.0 1.0M94.0 283.9l0.0 1.0M99.8 284.1l0.0 1.0M114.1 283.9l0.0 1.0M117.5 284.3l0.0 1.0M120.5 283.6l0.0 1.0M131.3 283.9l0.0 1.0M146.2 283.7l0.0 1.0M161.0 283.7l0.0 1.0M167.3 283.3l0.0 1.0M214.3 284.1l0.0 1.0" stroke="#262626" stroke-width="1.6" stroke-linecap="round" fill="none"/>
<path d="M121.3 301.3l3.0 0.5M130.4 302.1l3.0 0.5M136.0 301.5l3.0 0.5M141.7 301.5l3.0 0.5M197.3 301.3l3.0 0.5M202.7 301.8l3.0 0.5" stroke="#2d2d2d" stroke-width="1.3" stroke-linecap="round" fill="none"/>
<path d="M58.2 290.2l3.0 0.5M64.5 289.3l3.0 0.5M81.3 290.2l3.0 0.5M83.9 289.5l3.0 0.5M86.5 289.4l3.0 0.5M114.5 289.9l3.0 0.5M130.9 289.2l3.0 0.5M139.7 289.4l3.0 0.5M169.8 289.3l3.0 0.5M178.4 289.2l3.0 0.5M220.8 289.7l3.0 0.5M223.7 289.2l3.0 0.5M51.7 297.4l3.0 0.5M55.0 297.7l3.0 0.5M66.9 297.7l3.0 0.5M77.9 298.5l3.0 0.5M102.7 298.3l3.0 0.5M129.6 298.1l3.0 0.5M134.6 298.4l3.0 0.5M144.0 298.4l3.0 0.5M150.5 298.2l3.0 0.5M161.7 297.9l3.0 0.5M167.9 298.0l3.0 0.5M183.1 297.8l3.0 0.5M185.5 297.9l3.0 0.5M209.6 298.0l3.0 0.5M221.6 297.7l3.0 0.5" stroke="#2d2d2d" stroke-width="1.4" stroke-linecap="round" fill="none"/>
<path d="M39.1 286.6l2.8 1.0M54.7 287.4l2.8 1.0M64.4 287.4l2.8 1.0M84.1 287.4l2.8 1.0M106.2 287.4l2.8 1.0M109.6 286.6l2.8 1.0M130.6 286.6l2.8 1.0M136.6 287.2l2.8 1.0M175.0 287.3l2.8 1.0M181.0 286.6l2.8 1.0M184.5 287.0l2.8 1.0M187.4 287.0l2.8 1.0M189.8 286.7l2.8 1.0M213.2 287.2l2.8 1.0M40.8 295.2l3.4 0.6M63.2 294.3l3.4 0.6M81.7 295.0l3.4 0.6M206.3 294.3l3.4 0.6M209.4 295.0l3.4 0.6" stroke="#2d2d2d" stroke-width="1.5" stroke-linecap="round" fill="none"/>
<path d="M33.3 284.2l0.0 1.0M36.7 284.3l0.0 1.0M53.1 283.4l0.0 1.0M66.4 284.0l0.0 1.0M79.9 283.6l0.0 1.0M85.2 284.0l0.0 1.0M105.9 284.1l0.0 1.0M134.5 283.7l0.0 1.0M155.0 283.8l0.0 1.0M158.2 283.5l0.0 1.0M199.0 284.2l0.0 1.0M205.8 283.8l0.0 1.0" stroke="#2d2d2d" stroke-width="1.6" stroke-linecap="round" fill="none"/>
<path d="M158.3 301.2l3.0 0.5M164.4 301.7l3.0 0.5M181.2 301.8l3.0 0.5M190.7 301.6l3.0 0.5M193.9 301.5l3.0 0.5M199.7 301.7l3.0 0.5" stroke="#333333" stroke-width="1.3" stroke-linecap="round" fill="none"/>
<path d="M30.7 289.7l3.0 0.5M33.5 289.2l3.0 0.5M40.3 289.4l3.0 0.5M61.2 289.8l3.0 0.5M70.4 290.1l3.0 0.5M72.8 290.2l3.0 0.5M75.9 289.7l3.0 0.5M95.5 290.3l3.0 0.5M106.4 290.3l3.0 0.5M109.2 289.7l3.0 0.5M125.0 289.2l3.0 0.5M136.8 289.2l3.0 0.5M142.6 289.2l3.0 0.5M150.5 289.3l3.0 0.5M157.0 289.2l3.0 0.5M166.4 289.7l3.0 0.5M175.9 289.3l3.0 0.5M186.5 289.6l3.0 0.5M189.0 289.5l3.0 0.5M60.8 297.8l3.0 0.5M69.7 298.0l3.0 0.5M91.1 297.4l3.0 0.5M126.6 297.7l3.0 0.5M177.3 298.1l3.0 0.5M200.8 298.0l3.0 0.5M206.8 297.5l3.0 0.5" stroke="#333333" stroke-width="1.4" stroke-linecap="round" fill="none"/>
<path d="M67.9 286.7l2.8 1.0M74.5 286.5l2.8 1.0M87.6 286.6l2.8 1.0M91.2 286.8l2.8 1.0M96.7 286.4l2.8 1.0M99.9 286.6l2.8 1.0M121.7 286.9l2.8 1.0M157.1 286.9l2.8 1.0M198.5 287.0l2.8 1.0M222.4 286.4l2.8 1.0M32.3 294.2l3.4 0.6M43.7 294.6l3.4 0.6M54.0 294.2l3.4 0.6M66.3 295.0l3.4 0.6M69.0 294.4l3.4 0.6M85.2 295.1l3.4 0.6M117.4 294.5l3.4 0.6M126.5 295.0l3.4 0.6M151.8 294.9l3.4 0.6M166.4 294.8l3.4 0.6M181.7 294.8l3.4 0.6M191.2 294.7l3.4 0.6M203.7 294.3l3.4 0.6" stroke="#333333" stroke-width="1.5" stroke-linecap="round" fill="none"/>
<path d="M42.1 283.3l0.0 1.0M50.6 284.1l0.0 1.0M63.0 283.5l0.0 1.0M69.0 284.0l0.0 1.0M72.4 283.6l0.0 1.0M82.5 283.8l0.0 1.0M87.6 283.2l0.0 1.0M90.8 283.2l0.0 1.0M103.2 283.6l0.0 1.0M108.4 284.2l0.0 1.0M126.1 283.4l0.0 1.0M128.5 283.8l0.0 1.0M136.9 283.2l0.0 1.0M139.8 283.4l0.0 1.0M143.0 284.0l0.0 1.0M148.7 283.6l0.0 1.0M170.0 284.2l0.0 1.0M172.7 284.1l0.0 1.0M175.8 284.1l0.0 1.0M178.6 283.5l0.0 1.0M181.5 284.0l0.0 1.0M189.7 283.8l0.0 1.0M193.0 284.2l0.0 1.0M195.7 284.1l0.0 1.0M202.3 284.4l0.0 1.0M208.3 284.3l0.0 1.0M211.1 284.1l0.0 1.0M217.3 283.7l0.0 1.0M220.3 284.0l0.0 1.0M226.3 283.5l0.0 1.0M229.5 283.3l0.0 1.0" stroke="#333333" stroke-width="1.6" stroke-linecap="round" fill="none"/>
<path d="M42.9 289.9l3.0 0.5M54.8 289.9l3.0 0.5M98.0 289.5l3.0 0.5M134.3 290.3l3.0 0.5M148.0 289.8l3.0 0.5M160.1 289.8l3.0 0.5M181.4 289.4l3.0 0.5M192.3 290.2l3.0 0.5M209.9 289.5l3.0 0.5M85.8 297.8l3.0 0.5M100.3 297.9l3.0 0.5M105.7 298.4l3.0 0.5M108.8 297.4l3.0 0.5M191.8 298.5l3.0 0.5M197.9 297.4l3.0 0.5M203.7 297.7l3.0 0.5" stroke="#393939" stroke-width="1.4" stroke-linecap="round" fill="none"/>
<path d="M77.6 286.7l2.8 1.0M115.3 287.1l2.8 1.0M124.5 286.9l2.8 1.0M127.5 287.2l2.8 1.0M148.2 287.3l2.8 1.0M153.6 287.2l2.8 1.0M165.2 287.3l2.8 1.0M207.1 287.4l2.8 1.0M210.2 286.6l2.8 1.0M219.1 286.5l2.8 1.0M50.6 294.2l3.4 0.6M75.7 294.3l3.4 0.6M96.1 294.5l3.4 0.6M98.6 294.6l3.4 0.6M136.1 294.7l3.4 0.6M139.6 295.3l3.4 0.6M145.5 294.9l3.4 0.6M158.4 294.5l3.4 0.6M184.8 294.3l3.4 0.6" stroke="#393939" stroke-width="1.5" stroke-linecap="round" fill="none"/>
<path d="M151.6 284.2l0.0 1.0M164.4 284.0l0.0 1.0M184.1 284.0l0.0 1.0" stroke="#393939" stroke-width="1.6" stroke-linecap="round" fill="none"/>
<path d="M101.2 289.3l3.0 0.5M112.0 290.0l3.0 0.5M118.1 289.7l3.0 0.5M162.9 290.0l3.0 0.5M183.8 289.2l3.0 0.5M195.5 289.8l3.0 0.5M198.4 289.9l3.0 0.5M202.0 290.0l3.0 0.5M204.7 289.6l3.0 0.5M212.4 289.8l3.0 0.5M217.7 290.3l3.0 0.5M93.8 297.9l3.0 0.5M111.3 297.8l3.0 0.5M114.7 298.4l3.0 0.5M153.3 297.5l3.0 0.5M188.7 297.8l3.0 0.5M195.3 297.7l3.0 0.5" stroke="#404040" stroke-width="1.4" stroke-linecap="round" fill="none"/>
<path d="M103.2 286.3l2.8 1.0M142.7 287.4l2.8 1.0M145.5 287.3l2.8 1.0M204.0 286.5l2.8 1.0M38.2 295.0l3.4 0.6M79.1 294.1l3.4 0.6M93.5 294.8l3.4 0.6M111.7 294.8l3.4 0.6M142.6 294.1l3.4 0.6M176.1 294.4l3.4 0.6" stroke="#404040" stroke-width="1.5" stroke-linecap="round" fill="none"/>
<path d="M92.3 290.0l3.0 0.5M117.6 298.2l3.0 0.5M124.0 298.5l3.0 0.5M141.5 298.1l3.0 0.5M156.3 298.2l3.0 0.5M164.8 297.6l3.0 0.5" stroke="#464646" stroke-width="1.4" stroke-linecap="round" fill="none"/>
<path d="M94.0 286.9l2.8 1.0M118.4 286.4l2.8 1.0M139.5 287.1l2.8 1.0M160.1 286.7l2.8 1.0M162.7 287.3l2.8 1.0M177.7 287.4l2.8 1.0M47.0 294.7l3.4 0.6M60.5 294.6l3.4 0.6M88.0 295.1l3.4 0.6M114.9 294.4l3.4 0.6M172.7 294.7l3.4 0.6" stroke="#464646" stroke-width="1.5" stroke-linecap="round" fill="none"/>
<path d="M128.0 289.8l3.0 0.5M153.6 289.9l3.0 0.5" stroke="#4d4d4d" stroke-width="1.4" stroke-linecap="round" fill="none"/>
<path d="M112.2 286.6l2.8 1.0M168.5 286.3l2.8 1.0M195.6 286.4l2.8 1.0M201.5 286.7l2.8 1.0M72.5 295.1l3.4 0.6M91.1 294.5l3.4 0.6M101.5 294.6l3.4 0.6M108.3 294.7l3.4 0.6M161.1 295.2l3.4 0.6M163.7 295.0l3.4 0.6M187.9 294.9l3.4 0.6M198.0 295.2l3.4 0.6M200.7 295.1l3.4 0.6M212.7 295.1l3.4 0.6M216.0 295.2l3.4 0.6M219.1 294.2l3.4 0.6" stroke="#4d4d4d" stroke-width="1.5" stroke-linecap="round" fill="none"/>
<path d="M145.0 289.4l3.0 0.5" stroke="#535353" stroke-width="1.4" stroke-linecap="round" fill="none"/>
<path d="M133.5 287.4l2.8 1.0M150.6 287.1l2.8 1.0M105.1 295.2l3.4 0.6M120.5 295.0l3.4 0.6M154.9 294.5l3.4 0.6" stroke="#535353" stroke-width="1.5" stroke-linecap="round" fill="none"/>
<path d="M171.8 287.5l2.8 1.0M123.3 294.4l3.4 0.6M133.0 295.0l3.4 0.6M149.0 294.8l3.4 0.6M169.8 295.0l3.4 0.6" stroke="#595959" stroke-width="1.5" stroke-linecap="round" fill="none"/>
<path d="M129.7 295.2l3.4 0.6M179.3 294.3l3.4 0.6M194.6 294.5l3.4 0.6" stroke="#606060" stroke-width="1.5" stroke-linecap="round" fill="none"/>
</g>
<rect x="78.0" y="291.70" width="137.0" height="1.20" rx="8.0" ry="0.60" fill="url(#hg33)" filter="url(#bl3)"/>
<rect x="98.0" y="308.40" width="52.0" height="2.20" rx="8.0" ry="1.10" fill="url(#hg34)" filter="url(#bl11)"/>
<rect x="35.0" y="334.30" width="68.0" height="2.20" rx="8.0" ry="1.10" fill="url(#hg35)" filter="url(#bl11)"/>
<rect x="122.0" y="334.60" width="16.0" height="1.60" rx="8.0" ry="0.80" fill="url(#hg36)" filter="url(#bl6)"/>
<rect x="144.0" y="334.20" width="81.0" height="2.20" rx="8.0" ry="1.10" fill="url(#hg37)" filter="url(#bl11)"/>
</g>
</g>
<rect x="32.0" y="283.0" width="198.0" height="67.9" fill="none" stroke="#00004a" stroke-width="0.8" opacity="0.7"/>
<rect x="31.6" y="278.1" width="198.8" height="4.8" fill="url(#topglow)"/>
<text x="28.5" y="282.6" font-size="9.6" text-anchor="end" dominant-baseline="central" font-weight="normal" fill="#3c3c3c" stroke="#3c3c3c" stroke-width="0.30">0</text>
<text x="28.5" y="309.1" font-size="9.6" text-anchor="end" dominant-baseline="central" font-weight="normal" fill="#3c3c3c" stroke="#3c3c3c" stroke-width="0.30">5</text>
<text x="28.5" y="334.9" font-size="9.6" text-anchor="end" dominant-baseline="central" font-weight="normal" fill="#3c3c3c" stroke="#3c3c3c" stroke-width="0.30">10</text>
<text x="78.5" y="360.0" font-size="9.6" text-anchor="middle" dominant-baseline="central" font-weight="normal" fill="#3c3c3c" stroke="#3c3c3c" stroke-width="0.30" textLength="14.0" lengthAdjust="spacingAndGlyphs">-10</text>
<text x="131.2" y="360.0" font-size="9.6" text-anchor="middle" dominant-baseline="central" font-weight="normal" fill="#3c3c3c" stroke="#3c3c3c" stroke-width="0.30">0</text>
<text x="183.4" y="360.0" font-size="9.6" text-anchor="middle" dominant-baseline="central" font-weight="normal" fill="#3c3c3c" stroke="#3c3c3c" stroke-width="0.30">10</text>
<text x="131.0" y="373.8" font-size="10.8" text-anchor="middle" dominant-baseline="central" font-weight="normal" fill="#3c3c3c" stroke="#3c3c3c" stroke-width="0.30" textLength="30.0" lengthAdjust="spacingAndGlyphs">x(mm)</text>
<text x="9.4" y="316.5" font-size="7.8" text-anchor="middle" dominant-baseline="central" font-weight="normal" fill="#3c3c3c" stroke="#3c3c3c" stroke-width="0.30" textLength="29.5" lengthAdjust="spacingAndGlyphs" transform="rotate(-90 9.4 316.5)">z(mm)</text>
<text x="125.5" y="398.4" font-size="12.0" text-anchor="middle" dominant-baseline="central" font-weight="normal" fill="#3c3c3c" stroke="#3c3c3c" stroke-width="0.45">(e)</text>
<g clip-path="url(#cp46)"><g filter="url(#jet)">
<rect x="264.7" y="282.6" width="198.8" height="68.7" fill="#090909" opacity="1.00"/>
<g><rect x="264.7" y="283.0" width="198.8" height="16.0" fill="url(#vg39)" filter="url(#bl0)"/></g>
<g filter="url(#bl12)">
<path d="M271.0 296.1l0.0 1.5M279.0 296.3l0.0 1.5M285.2 296.8l0.0 1.5M287.6 296.3l0.0 1.5M289.9 295.9l0.0 1.5M395.2 296.0l0.0 1.5M439.8 296.3l0.0 1.5M442.2 296.7l0.0 1.5M445.1 296.3l0.0 1.5M450.9 295.7l0.0 1.5M454.2 296.6l0.0 1.5" stroke="#131313" stroke-width="1.3" stroke-linecap="round" fill="none"/>
<path d="M274.0 296.8l0.0 1.5M276.4 296.7l0.0 1.5M293.2 296.7l0.0 1.5M296.5 295.8l0.0 1.5M303.9 296.4l0.0 1.5M336.6 296.6l0.0 1.5M345.2 295.7l0.0 1.5M358.4 296.8l0.0 1.5M367.0 296.7l0.0 1.5M381.1 295.8l0.0 1.5M386.6 296.7l0.0 1.5M406.0 295.8l0.0 1.5M408.4 296.3l0.0 1.5M411.2 296.8l0.0 1.5M422.0 296.5l0.0 1.5M437.0 295.7l0.0 1.5M447.7 296.6l0.0 1.5" stroke="#1a1a1a" stroke-width="1.3" stroke-linecap="round" fill="none"/>
<path d="M266.2 286.6l0.0 1.5M271.1 286.9l0.0 1.5M276.9 286.9l0.0 1.5M294.8 287.0l0.0 1.5M297.5 286.3l0.0 1.5M300.5 287.1l0.0 1.5M393.8 286.6l0.0 1.5M447.9 287.3l0.0 1.5" stroke="#1a1a1a" stroke-width="1.4" stroke-linecap="round" fill="none"/>
<path d="M269.5 284.0l0.0 1.0M292.6 283.4l0.0 1.0M312.6 284.3l0.0 1.0M323.4 284.1l0.0 1.0M385.3 283.2l0.0 1.0M407.7 283.3l0.0 1.0M416.8 283.9l0.0 1.0M436.9 284.2l0.0 1.0M442.7 283.3l0.0 1.0M461.2 283.8l0.0 1.0" stroke="#1a1a1a" stroke-width="1.6" stroke-linecap="round" fill="none"/>
<path d="M282.2 296.7l0.0 1.5M299.0 296.5l0.0 1.5M310.4 296.2l0.0 1.5M312.7 296.7l0.0 1.5M315.8 296.4l0.0 1.5M326.3 295.8l0.0 1.5M333.5 296.0l0.0 1.5M339.4 296.0l0.0 1.5M342.6 296.1l0.0 1.5M361.5 295.8l0.0 1.5M369.4 295.9l0.0 1.5M378.7 296.5l0.0 1.5M398.1 296.6l0.0 1.5M414.1 296.6l0.0 1.5M425.0 296.6l0.0 1.5M433.8 296.7l0.0 1.5" stroke="#202020" stroke-width="1.3" stroke-linecap="round" fill="none"/>
<path d="M268.6 286.7l0.0 1.5M274.3 286.4l0.0 1.5M280.0 286.5l0.0 1.5M282.6 286.8l0.0 1.5M291.5 287.0l0.0 1.5M302.9 286.3l0.0 1.5M325.2 287.3l0.0 1.5M340.2 286.7l0.0 1.5M349.1 286.4l0.0 1.5M351.3 286.3l0.0 1.5M354.5 287.0l0.0 1.5M357.0 286.8l0.0 1.5M368.4 286.8l0.0 1.5M399.4 286.7l0.0 1.5M416.6 286.4l0.0 1.5M422.4 287.1l0.0 1.5M425.5 287.4l0.0 1.5M428.5 286.7l0.0 1.5M433.3 287.0l0.0 1.5M452.5 287.1l0.0 1.5M458.3 287.2l0.0 1.5" stroke="#202020" stroke-width="1.4" stroke-linecap="round" fill="none"/>
<path d="M275.3 284.2l0.0 1.0M278.4 283.8l0.0 1.0M281.4 283.9l0.0 1.0M284.5 284.2l0.0 1.0M295.6 284.3l0.0 1.0M298.5 284.0l0.0 1.0M315.4 284.0l0.0 1.0M318.0 283.8l0.0 1.0M320.4 284.2l0.0 1.0M325.7 284.3l0.0 1.0M328.6 283.7l0.0 1.0M331.3 284.4l0.0 1.0M333.6 284.1l0.0 1.0M342.9 284.2l0.0 1.0M349.0 283.3l0.0 1.0M352.1 283.8l0.0 1.0M355.2 283.2l0.0 1.0M360.1 284.3l0.0 1.0M362.7 284.3l0.0 1.0M365.6 283.8l0.0 1.0M368.4 283.7l0.0 1.0M382.6 283.2l0.0 1.0M388.4 284.1l0.0 1.0M393.4 284.3l0.0 1.0M396.3 284.1l0.0 1.0M401.8 283.4l0.0 1.0M410.6 284.3l0.0 1.0M448.1 283.6l0.0 1.0M458.9 283.8l0.0 1.0" stroke="#202020" stroke-width="1.6" stroke-linecap="round" fill="none"/>
<path d="M301.6 295.7l0.0 1.5M307.1 296.7l0.0 1.5M328.5 296.1l0.0 1.5M330.9 295.9l0.0 1.5M356.0 296.0l0.0 1.5M364.3 296.8l0.0 1.5M375.6 296.2l0.0 1.5M389.6 296.8l0.0 1.5M391.9 295.8l0.0 1.5M403.7 295.7l0.0 1.5M417.0 296.6l0.0 1.5M419.7 296.4l0.0 1.5M428.0 296.0l0.0 1.5M431.3 296.6l0.0 1.5" stroke="#262626" stroke-width="1.3" stroke-linecap="round" fill="none"/>
<path d="M288.3 287.0l0.0 1.5M331.3 287.2l0.0 1.5M365.2 286.4l0.0 1.5M388.8 286.6l0.0 1.5M391.2 287.3l0.0 1.5" stroke="#262626" stroke-width="1.4" stroke-linecap="round" fill="none"/>
<path d="M272.2 283.6l0.0 1.0M289.9 284.2l0.0 1.0M303.9 284.0l0.0 1.0M309.7 283.6l0.0 1.0M346.0 283.8l0.0 1.0M357.6 283.6l0.0 1.0M370.9 283.6l0.0 1.0M376.6 283.6l0.0 1.0M379.3 284.2l0.0 1.0M399.4 283.8l0.0 1.0M404.7 283.4l0.0 1.0M413.6 283.4l0.0 1.0M422.8 284.1l0.0 1.0M427.9 283.7l0.0 1.0M430.4 283.3l0.0 1.0M445.9 283.8l0.0 1.0M453.7 283.6l0.0 1.0M456.1 283.3l0.0 1.0" stroke="#262626" stroke-width="1.6" stroke-linecap="round" fill="none"/>
<path d="M318.9 296.5l0.0 1.5M321.8 296.8l0.0 1.5M324.1 296.0l0.0 1.5M348.2 296.0l0.0 1.5M350.9 295.7l0.0 1.5M353.4 295.9l0.0 1.5M383.6 295.9l0.0 1.5M400.4 295.7l0.0 1.5" stroke="#2d2d2d" stroke-width="1.3" stroke-linecap="round" fill="none"/>
<path d="M285.3 286.9l0.0 1.5M305.7 286.5l0.0 1.5M311.4 287.3l0.0 1.5M313.8 286.4l0.0 1.5M319.5 287.1l0.0 1.5M322.5 286.6l0.0 1.5M362.4 287.0l0.0 1.5M371.5 287.4l0.0 1.5M374.7 286.4l0.0 1.5M377.6 287.3l0.0 1.5M396.2 287.2l0.0 1.5M407.8 286.7l0.0 1.5M414.3 287.2l0.0 1.5M419.6 286.4l0.0 1.5M430.9 287.4l0.0 1.5M436.5 286.8l0.0 1.5M438.9 286.8l0.0 1.5M442.0 287.1l0.0 1.5M445.3 287.3l0.0 1.5M455.1 286.4l0.0 1.5" stroke="#2d2d2d" stroke-width="1.4" stroke-linecap="round" fill="none"/>
<path d="M266.9 283.8l0.0 1.0M287.5 283.6l0.0 1.0M301.1 284.3l0.0 1.0M307.1 283.2l0.0 1.0M336.3 283.5l0.0 1.0M339.6 284.0l0.0 1.0M373.9 284.3l0.0 1.0M391.1 284.2l0.0 1.0M420.0 284.3l0.0 1.0M425.2 284.3l0.0 1.0M433.6 283.5l0.0 1.0M439.4 283.7l0.0 1.0M450.4 284.1l0.0 1.0" stroke="#2d2d2d" stroke-width="1.6" stroke-linecap="round" fill="none"/>
<path d="M372.6 296.1l0.0 1.5" stroke="#333333" stroke-width="1.3" stroke-linecap="round" fill="none"/>
<path d="M308.6 286.6l0.0 1.5M316.2 286.3l0.0 1.5M328.4 286.5l0.0 1.5M337.3 286.4l0.0 1.5M380.4 287.2l0.0 1.5M383.2 287.3l0.0 1.5M411.1 287.0l0.0 1.5M450.2 286.8l0.0 1.5" stroke="#333333" stroke-width="1.4" stroke-linecap="round" fill="none"/>
<path d="M277.3 290.3l0.0 1.0M292.7 290.6l0.0 1.0M301.3 290.3l0.0 1.0M312.2 290.7l0.0 1.0M440.4 290.5l0.0 1.0" stroke="#333333" stroke-width="1.5" stroke-linecap="round" fill="none"/>
<path d="M334.3 287.1l0.0 1.5M342.6 286.3l0.0 1.5M345.9 286.8l0.0 1.5M359.5 286.7l0.0 1.5M385.6 287.3l0.0 1.5M401.8 287.3l0.0 1.5M404.6 286.9l0.0 1.5M272.3 292.9l0.0 2.4M280.2 292.8l0.0 2.4M306.5 292.6l0.0 2.4M311.6 292.7l0.0 2.4M410.7 292.9l0.0 2.4M419.3 292.5l0.0 2.4M441.8 292.7l0.0 2.4" stroke="#393939" stroke-width="1.4" stroke-linecap="round" fill="none"/>
<path d="M266.6 290.5l0.0 1.0M268.8 290.6l0.0 1.0M271.2 290.3l0.0 1.0M283.6 290.4l0.0 1.0M286.4 290.5l0.0 1.0M289.6 290.7l0.0 1.0M303.8 290.4l0.0 1.0M309.3 290.6l0.0 1.0M314.9 290.4l0.0 1.0M318.1 290.5l0.0 1.0M364.4 290.5l0.0 1.0M367.7 290.6l0.0 1.0M380.1 290.3l0.0 1.0M390.6 290.6l0.0 1.0M393.0 290.4l0.0 1.0M398.8 290.7l0.0 1.0M404.7 290.6l0.0 1.0M437.7 290.7l0.0 1.0M442.8 290.6l0.0 1.0" stroke="#393939" stroke-width="1.5" stroke-linecap="round" fill="none"/>
<path d="M275.0 292.6l0.0 2.4M283.1 292.6l0.0 2.4M309.3 292.7l0.0 2.4M314.1 292.7l0.0 2.4M326.0 292.8l0.0 2.4M341.5 292.9l0.0 2.4M365.9 292.8l0.0 2.4M374.5 292.9l0.0 2.4M389.6 292.6l0.0 2.4M422.5 292.8l0.0 2.4M436.3 292.5l0.0 2.4M445.1 292.9l0.0 2.4M451.1 292.8l0.0 2.4M453.4 292.7l0.0 2.4" stroke="#404040" stroke-width="1.4" stroke-linecap="round" fill="none"/>
<path d="M280.3 290.7l0.0 1.0M295.7 290.3l0.0 1.0M298.9 290.5l0.0 1.0M321.0 290.6l0.0 1.0M323.3 290.5l0.0 1.0M337.4 290.7l0.0 1.0M348.2 290.5l0.0 1.0M350.6 290.3l0.0 1.0M353.2 290.5l0.0 1.0M359.1 290.5l0.0 1.0M375.4 290.5l0.0 1.0M377.7 290.4l0.0 1.0M382.5 290.5l0.0 1.0M401.8 290.5l0.0 1.0M408.0 290.5l0.0 1.0M416.4 290.5l0.0 1.0M419.0 290.5l0.0 1.0M426.8 290.7l0.0 1.0M431.9 290.6l0.0 1.0M445.7 290.6l0.0 1.0M454.5 290.5l0.0 1.0" stroke="#404040" stroke-width="1.5" stroke-linecap="round" fill="none"/>
<path d="M264.8 292.7l0.0 2.4M277.7 292.8l0.0 2.4M286.5 292.9l0.0 2.4M289.4 292.5l0.0 2.4M295.0 292.8l0.0 2.4M300.4 292.6l0.0 2.4M303.4 292.8l0.0 2.4M319.8 292.8l0.0 2.4M328.5 292.7l0.0 2.4M330.8 292.6l0.0 2.4M333.3 292.8l0.0 2.4M336.3 292.8l0.0 2.4M339.0 292.7l0.0 2.4M351.8 292.6l0.0 2.4M357.8 292.6l0.0 2.4M372.0 292.7l0.0 2.4M376.8 292.6l0.0 2.4M399.5 292.7l0.0 2.4M413.4 292.5l0.0 2.4M416.3 292.7l0.0 2.4M456.0 292.5l0.0 2.4M458.5 292.6l0.0 2.4" stroke="#464646" stroke-width="1.4" stroke-linecap="round" fill="none"/>
<path d="M274.5 290.6l0.0 1.0M306.1 290.6l0.0 1.0M326.3 290.4l0.0 1.0M342.8 290.4l0.0 1.0M345.8 290.3l0.0 1.0M385.6 290.5l0.0 1.0M388.2 290.4l0.0 1.0M395.9 290.5l0.0 1.0M413.1 290.4l0.0 1.0M424.2 290.5l0.0 1.0M429.1 290.5l0.0 1.0M451.2 290.4l0.0 1.0M456.9 290.4l0.0 1.0M459.2 290.3l0.0 1.0" stroke="#464646" stroke-width="1.5" stroke-linecap="round" fill="none"/>
<path d="M267.6 292.7l0.0 2.4M270.0 292.5l0.0 2.4M292.7 292.5l0.0 2.4M317.0 292.7l0.0 2.4M349.6 292.7l0.0 2.4M381.9 292.8l0.0 2.4M384.2 292.8l0.0 2.4M387.1 292.6l0.0 2.4M404.6 292.7l0.0 2.4M407.5 292.6l0.0 2.4M425.6 292.5l0.0 2.4M433.8 292.7l0.0 2.4M439.2 292.9l0.0 2.4M448.0 292.5l0.0 2.4" stroke="#4d4d4d" stroke-width="1.4" stroke-linecap="round" fill="none"/>
<path d="M329.2 290.5l0.0 1.0M332.2 290.4l0.0 1.0M334.7 290.4l0.0 1.0M340.3 290.4l0.0 1.0M356.1 290.6l0.0 1.0M362.2 290.4l0.0 1.0M370.6 290.7l0.0 1.0M373.0 290.4l0.0 1.0M410.5 290.5l0.0 1.0M421.3 290.4l0.0 1.0M435.0 290.5l0.0 1.0M448.7 290.6l0.0 1.0" stroke="#4d4d4d" stroke-width="1.5" stroke-linecap="round" fill="none"/>
<path d="M297.5 292.5l0.0 2.4M323.0 292.9l0.0 2.4M344.4 292.7l0.0 2.4M347.2 292.5l0.0 2.4M362.9 292.6l0.0 2.4M379.2 292.8l0.0 2.4M392.1 292.6l0.0 2.4M394.5 292.7l0.0 2.4M396.9 292.5l0.0 2.4M402.0 292.7l0.0 2.4M428.5 292.5l0.0 2.4M430.8 292.8l0.0 2.4" stroke="#535353" stroke-width="1.4" stroke-linecap="round" fill="none"/>
<path d="M355.1 292.5l0.0 2.4M360.4 292.9l0.0 2.4M368.8 292.7l0.0 2.4" stroke="#595959" stroke-width="1.4" stroke-linecap="round" fill="none"/>
</g>
<rect x="283.0" y="300.40" width="29.0" height="1.20" rx="8.0" ry="0.60" fill="url(#hg40)" filter="url(#bl3)"/>
<rect x="325.0" y="300.40" width="37.0" height="1.20" rx="8.0" ry="0.60" fill="url(#hg41)" filter="url(#bl3)"/>
<rect x="410.0" y="302.90" width="30.0" height="1.20" rx="8.0" ry="0.60" fill="url(#hg42)" filter="url(#bl3)"/>
<ellipse cx="305.0" cy="305.5" rx="3.0" ry="0.9" fill="#474747" filter="url(#bl5)"/>
<rect x="329.0" y="307.30" width="55.0" height="4.00" rx="8.0" ry="2.00" fill="url(#hg43)" filter="url(#bl5)"/>
<rect x="332.0" y="331.50" width="51.0" height="5.40" rx="25.0" ry="2.70" fill="url(#hg44)" filter="url(#bl13)"/>
<rect x="266.0" y="333.60" width="195.0" height="3.20" rx="8.0" ry="1.60" fill="url(#hg45)" filter="url(#bl14)"/>
</g>
</g>
<rect x="265.1" y="283.0" width="198.0" height="67.9" fill="none" stroke="#00004a" stroke-width="0.8" opacity="0.7"/>
<rect x="264.7" y="278.1" width="198.8" height="4.8" fill="url(#topglow)"/>
<text x="262.0" y="282.6" font-size="9.6" text-anchor="end" dominant-baseline="central" font-weight="normal" fill="#3c3c3c" stroke="#3c3c3c" stroke-width="0.30">0</text>
<text x="262.0" y="308.8" font-size="9.6" text-anchor="end" dominant-baseline="central" font-weight="normal" fill="#3c3c3c" stroke="#3c3c3c" stroke-width="0.30">5</text>
<text x="262.0" y="334.3" font-size="9.6" text-anchor="end" dominant-baseline="central" font-weight="normal" fill="#3c3c3c" stroke="#3c3c3c" stroke-width="0.30">10</text>
<text x="311.4" y="360.0" font-size="9.6" text-anchor="middle" dominant-baseline="central" font-weight="normal" fill="#3c3c3c" stroke="#3c3c3c" stroke-width="0.30" textLength="14.0" lengthAdjust="spacingAndGlyphs">-10</text>
<text x="363.8" y="360.0" font-size="9.6" text-anchor="middle" dominant-baseline="central" font-weight="normal" fill="#3c3c3c" stroke="#3c3c3c" stroke-width="0.30">0</text>
<text x="416.4" y="360.0" font-size="9.6" text-anchor="middle" dominant-baseline="central" font-weight="normal" fill="#3c3c3c" stroke="#3c3c3c" stroke-width="0.30">10</text>
<text x="364.1" y="373.8" font-size="10.8" text-anchor="middle" dominant-baseline="central" font-weight="normal" fill="#3c3c3c" stroke="#3c3c3c" stroke-width="0.30" textLength="30.0" lengthAdjust="spacingAndGlyphs">x(mm)</text>
<text x="242.8" y="316.1" font-size="7.8" text-anchor="middle" dominant-baseline="central" font-weight="normal" fill="#3c3c3c" stroke="#3c3c3c" stroke-width="0.30" textLength="29.5" lengthAdjust="spacingAndGlyphs" transform="rotate(-90 242.8 316.1)">z(mm)</text>
<text x="359.0" y="398.4" font-size="12.0" text-anchor="middle" dominant-baseline="central" font-weight="normal" fill="#3c3c3c" stroke="#3c3c3c" stroke-width="0.45">(f)</text>
<g clip-path="url(#cp51)"><g filter="url(#jet)">
<rect x="31.5" y="420.6" width="198.9" height="68.8" fill="#090909" opacity="1.00"/>
<g><rect x="31.5" y="421.0" width="198.9" height="16.0" fill="url(#vg47)" filter="url(#bl0)"/></g>
<g filter="url(#bl12)">
<path d="M46.6 433.3l1.0 1.7M49.3 433.6l1.0 1.7M53.2 434.3l1.0 1.7M72.3 433.2l1.0 1.7M87.6 434.0l1.0 1.7M120.7 433.8l1.0 1.7M164.6 433.7l1.0 1.7M184.9 433.8l1.0 1.7M188.4 433.6l1.0 1.7M191.2 433.4l1.0 1.7M210.1 433.3l1.0 1.7M220.1 433.6l1.0 1.7M47.8 438.2l2.6 0.5M184.7 438.4l2.6 0.5M200.3 438.2l2.6 0.5" stroke="#1a1a1a" stroke-width="1.3" stroke-linecap="round" fill="none"/>
<path d="M56.1 434.1l1.0 1.7M59.8 433.2l1.0 1.7M63.1 434.2l1.0 1.7M66.0 434.2l1.0 1.7M68.6 434.1l1.0 1.7M94.2 433.7l1.0 1.7M104.9 434.1l1.0 1.7M112.0 433.5l1.0 1.7M127.7 433.2l1.0 1.7M133.7 433.6l1.0 1.7M144.7 433.8l1.0 1.7M150.8 433.3l1.0 1.7M171.1 433.3l1.0 1.7M177.8 434.2l1.0 1.7M181.0 434.1l1.0 1.7M197.3 433.9l1.0 1.7M200.2 433.4l1.0 1.7M203.9 433.2l1.0 1.7M206.6 433.8l1.0 1.7M213.7 433.5l1.0 1.7" stroke="#202020" stroke-width="1.3" stroke-linecap="round" fill="none"/>
<path d="M34.0 434.0l1.0 1.7M37.9 433.5l1.0 1.7M40.8 434.0l1.0 1.7M43.5 433.6l1.0 1.7M91.5 434.3l1.0 1.7M101.0 433.7l1.0 1.7M130.5 434.0l1.0 1.7M154.6 433.5l1.0 1.7M194.6 433.4l1.0 1.7M226.8 433.4l1.0 1.7M229.5 433.6l1.0 1.7M93.1 438.2l2.6 0.5M96.7 438.3l2.6 0.5M128.1 438.3l2.6 0.5M152.4 438.1l2.6 0.5M155.9 438.3l2.6 0.5M167.5 438.0l2.6 0.5M188.0 438.3l2.6 0.5M196.7 438.0l2.6 0.5" stroke="#262626" stroke-width="1.3" stroke-linecap="round" fill="none"/>
<path d="M75.0 433.4l1.0 1.7M78.6 433.5l1.0 1.7M81.6 433.9l1.0 1.7M84.6 433.5l1.0 1.7M108.5 434.1l1.0 1.7M115.1 433.2l1.0 1.7M118.0 433.4l1.0 1.7M137.2 434.0l1.0 1.7M140.9 433.3l1.0 1.7M147.8 433.4l1.0 1.7M160.7 433.9l1.0 1.7M168.4 434.2l1.0 1.7M216.7 433.5l1.0 1.7M223.9 433.6l1.0 1.7M45.0 438.2l2.6 0.5M61.0 438.2l2.6 0.5M70.5 438.3l2.6 0.5M77.2 438.3l2.6 0.5M83.6 438.1l2.6 0.5M148.6 438.3l2.6 0.5M177.3 438.1l2.6 0.5M181.0 438.2l2.6 0.5M194.0 438.2l2.6 0.5" stroke="#2d2d2d" stroke-width="1.3" stroke-linecap="round" fill="none"/>
<path d="M98.1 433.6l1.0 1.7M123.8 434.2l1.0 1.7M157.7 433.7l1.0 1.7M173.9 433.8l1.0 1.7M54.5 438.2l2.6 0.5M57.3 438.2l2.6 0.5M89.4 438.3l2.6 0.5M102.7 438.1l2.6 0.5M134.8 438.4l2.6 0.5M164.9 438.1l2.6 0.5M171.3 438.3l2.6 0.5M174.1 438.0l2.6 0.5M190.9 438.2l2.6 0.5" stroke="#333333" stroke-width="1.3" stroke-linecap="round" fill="none"/>
<path d="M51.2 438.0l2.6 0.5M80.0 438.3l2.6 0.5M86.7 438.1l2.6 0.5M106.0 438.2l2.6 0.5M109.2 438.0l2.6 0.5M112.5 438.1l2.6 0.5M118.9 438.0l2.6 0.5M121.6 438.0l2.6 0.5M124.7 438.0l2.6 0.5M131.6 438.0l2.6 0.5M144.9 438.4l2.6 0.5" stroke="#393939" stroke-width="1.3" stroke-linecap="round" fill="none"/>
<path d="M226.1 430.2l1.8 2.6" stroke="#393939" stroke-width="1.4" stroke-linecap="round" fill="none"/>
<path d="M99.4 438.2l2.6 0.5M158.8 438.0l2.6 0.5M162.0 438.1l2.6 0.5" stroke="#404040" stroke-width="1.3" stroke-linecap="round" fill="none"/>
<path d="M53.8 430.4l1.8 2.6M75.5 430.5l1.8 2.6M102.0 430.3l1.8 2.6M130.8 430.6l1.8 2.6M167.0 430.5l1.8 2.6M173.9 430.4l1.8 2.6M186.9 430.5l1.8 2.6M223.3 430.8l1.8 2.6" stroke="#404040" stroke-width="1.4" stroke-linecap="round" fill="none"/>
<path d="M116.1 438.2l2.6 0.5M137.6 438.4l2.6 0.5M141.1 438.1l2.6 0.5" stroke="#464646" stroke-width="1.3" stroke-linecap="round" fill="none"/>
<path d="M36.7 430.4l1.8 2.6M43.8 430.2l1.8 2.6M50.5 430.3l1.8 2.6M71.6 430.2l1.8 2.6M78.6 430.6l1.8 2.6M82.5 430.6l1.8 2.6M88.4 430.3l1.8 2.6M98.9 430.2l1.8 2.6M143.9 430.3l1.8 2.6M157.8 430.7l1.8 2.6M200.2 430.7l1.8 2.6M207.8 430.7l1.8 2.6M210.7 430.6l1.8 2.6M216.6 430.4l1.8 2.6" stroke="#464646" stroke-width="1.4" stroke-linecap="round" fill="none"/>
<path d="M67.3 438.4l2.6 0.5M73.6 438.2l2.6 0.5" stroke="#4d4d4d" stroke-width="1.3" stroke-linecap="round" fill="none"/>
<path d="M68.1 430.6l1.8 2.6M114.7 430.8l1.8 2.6M121.2 430.4l1.8 2.6M161.3 430.3l1.8 2.6M170.4 430.3l1.8 2.6M190.5 430.3l1.8 2.6M196.7 430.4l1.8 2.6M203.8 430.3l1.8 2.6" stroke="#4d4d4d" stroke-width="1.4" stroke-linecap="round" fill="none"/>
<path d="M64.6 438.1l2.6 0.5" stroke="#535353" stroke-width="1.3" stroke-linecap="round" fill="none"/>
<path d="M33.6 430.7l1.8 2.6M40.6 430.4l1.8 2.6M85.5 430.4l1.8 2.6M92.2 430.3l1.8 2.6M108.6 430.4l1.8 2.6M111.9 430.4l1.8 2.6M117.5 430.6l1.8 2.6M124.2 430.5l1.8 2.6M134.6 430.5l1.8 2.6M137.2 430.7l1.8 2.6M180.9 430.3l1.8 2.6" stroke="#535353" stroke-width="1.4" stroke-linecap="round" fill="none"/>
<path d="M40.9 421.4l0.7 1.3M65.9 421.5l0.7 1.3M107.1 421.8l0.7 1.3M119.1 421.8l0.7 1.3M144.7 421.6l0.7 1.3M170.9 421.4l0.7 1.3M31.2 427.2l1.7 2.5M40.3 427.2l1.7 2.5M100.3 427.1l1.7 2.5M138.1 427.2l1.7 2.5M219.6 427.4l1.7 2.5" stroke="#535353" stroke-width="1.5" stroke-linecap="round" fill="none"/>
<path d="M46.6 430.4l1.8 2.6M64.5 430.2l1.8 2.6M105.0 430.7l1.8 2.6M150.9 430.6l1.8 2.6M154.1 430.2l1.8 2.6M164.2 430.6l1.8 2.6" stroke="#595959" stroke-width="1.4" stroke-linecap="round" fill="none"/>
<path d="M32.2 421.7l0.7 1.3M55.9 421.5l0.7 1.3M59.6 421.7l0.7 1.3M125.7 421.6l0.7 1.3M138.8 421.5l0.7 1.3M155.0 421.9l0.7 1.3M165.3 421.4l0.7 1.3M168.2 421.6l0.7 1.3M193.0 421.4l0.7 1.3M200.2 421.7l0.7 1.3M64.6 427.1l1.7 2.5M94.5 427.4l1.7 2.5M141.2 427.6l1.7 2.5M174.9 427.2l1.7 2.5M181.2 427.2l1.7 2.5M191.0 427.6l1.7 2.5M206.8 427.4l1.7 2.5M210.7 427.6l1.7 2.5" stroke="#595959" stroke-width="1.5" stroke-linecap="round" fill="none"/>
<path d="M57.7 430.7l1.8 2.6M61.2 430.8l1.8 2.6M147.3 430.8l1.8 2.6M194.0 430.3l1.8 2.6M213.7 430.5l1.8 2.6M220.1 430.3l1.8 2.6" stroke="#606060" stroke-width="1.4" stroke-linecap="round" fill="none"/>
<path d="M50.4 421.9l0.7 1.3M63.1 421.7l0.7 1.3M83.5 421.9l0.7 1.3M96.4 421.8l0.7 1.3M121.9 421.6l0.7 1.3M132.9 421.6l0.7 1.3M213.9 421.8l0.7 1.3M227.6 421.5l0.7 1.3M34.2 427.5l1.7 2.5M68.2 427.2l1.7 2.5M74.5 427.2l1.7 2.5M80.7 427.6l1.7 2.5M88.6 427.3l1.7 2.5M91.2 427.4l1.7 2.5M97.1 427.1l1.7 2.5M103.4 427.4l1.7 2.5M158.8 427.1l1.7 2.5M178.5 427.4l1.7 2.5M222.9 427.2l1.7 2.5" stroke="#606060" stroke-width="1.5" stroke-linecap="round" fill="none"/>
<path d="M96.1 430.5l1.8 2.6M128.1 430.7l1.8 2.6M141.0 430.8l1.8 2.6M177.1 430.6l1.8 2.6M183.9 430.6l1.8 2.6" stroke="#666666" stroke-width="1.4" stroke-linecap="round" fill="none"/>
<path d="M34.9 421.6l0.7 1.3M37.6 421.4l0.7 1.3M69.4 421.5l0.7 1.3M72.8 421.5l0.7 1.3M79.9 421.9l0.7 1.3M86.3 421.8l0.7 1.3M89.1 421.4l0.7 1.3M113.6 421.8l0.7 1.3M116.3 421.5l0.7 1.3M141.8 421.7l0.7 1.3M161.8 421.4l0.7 1.3M173.7 421.4l0.7 1.3M180.4 421.6l0.7 1.3M189.3 421.5l0.7 1.3M207.2 421.5l0.7 1.3M224.9 421.4l0.7 1.3M37.2 427.2l1.7 2.5M45.9 427.6l1.7 2.5M61.8 427.3l1.7 2.5M77.5 427.2l1.7 2.5M127.6 427.6l1.7 2.5M148.1 427.1l1.7 2.5M168.5 427.5l1.7 2.5M196.6 427.6l1.7 2.5M200.5 427.2l1.7 2.5M226.0 427.6l1.7 2.5" stroke="#666666" stroke-width="1.5" stroke-linecap="round" fill="none"/>
<path d="M47.0 421.9l0.7 1.3M76.5 421.5l0.7 1.3M99.9 421.6l0.7 1.3M147.9 421.9l0.7 1.3M151.4 421.7l0.7 1.3M177.5 421.4l0.7 1.3M186.5 421.4l0.7 1.3M196.9 421.4l0.7 1.3M210.8 421.8l0.7 1.3M55.3 427.7l1.7 2.5M84.6 427.2l1.7 2.5M116.9 427.1l1.7 2.5M144.6 427.4l1.7 2.5M172.2 427.5l1.7 2.5M187.7 427.4l1.7 2.5" stroke="#6c6c6c" stroke-width="1.5" stroke-linecap="round" fill="none"/>
<path d="M51.0 424.2l1.7 2.5M80.0 424.4l1.7 2.5" stroke="#6c6c6c" stroke-width="1.6" stroke-linecap="round" fill="none"/>
<path d="M44.1 421.4l0.7 1.3M53.1 421.5l0.7 1.3M92.6 421.7l0.7 1.3M221.6 421.5l0.7 1.3M43.0 427.4l1.7 2.5M48.7 427.3l1.7 2.5M52.0 427.3l1.7 2.5M58.4 427.5l1.7 2.5M70.9 427.6l1.7 2.5M106.7 427.5l1.7 2.5M124.3 427.2l1.7 2.5M135.1 427.5l1.7 2.5M151.8 427.4l1.7 2.5M155.2 427.1l1.7 2.5M161.8 427.2l1.7 2.5M184.7 427.5l1.7 2.5M228.6 427.6l1.7 2.5" stroke="#737373" stroke-width="1.5" stroke-linecap="round" fill="none"/>
<path d="M40.7 423.9l1.7 2.5M58.1 424.2l1.7 2.5M68.0 423.8l1.7 2.5M95.7 424.3l1.7 2.5M189.1 424.4l1.7 2.5M195.7 424.2l1.7 2.5M209.0 423.8l1.7 2.5" stroke="#737373" stroke-width="1.6" stroke-linecap="round" fill="none"/>
<path d="M103.6 421.6l0.7 1.3M129.1 421.8l0.7 1.3M136.0 421.9l0.7 1.3M158.6 421.8l0.7 1.3M183.2 421.9l0.7 1.3M204.2 421.8l0.7 1.3M217.8 421.8l0.7 1.3M110.3 427.3l1.7 2.5M120.7 427.4l1.7 2.5M131.3 427.4l1.7 2.5M214.0 427.5l1.7 2.5M217.0 427.4l1.7 2.5" stroke="#797979" stroke-width="1.5" stroke-linecap="round" fill="none"/>
<path d="M33.8 424.3l1.7 2.5M47.3 424.2l1.7 2.5M64.4 424.3l1.7 2.5M77.2 424.1l1.7 2.5M89.6 423.9l1.7 2.5M121.3 424.1l1.7 2.5M155.4 424.2l1.7 2.5M198.7 424.0l1.7 2.5" stroke="#797979" stroke-width="1.6" stroke-linecap="round" fill="none"/>
<path d="M110.6 421.8l0.7 1.3M113.3 427.2l1.7 2.5M165.4 427.4l1.7 2.5M193.9 427.6l1.7 2.5M203.4 427.2l1.7 2.5" stroke="#808080" stroke-width="1.5" stroke-linecap="round" fill="none"/>
<path d="M43.6 424.3l1.7 2.5M102.7 424.3l1.7 2.5M124.3 424.2l1.7 2.5M145.7 424.1l1.7 2.5M180.4 424.2l1.7 2.5M185.7 424.1l1.7 2.5M212.5 423.8l1.7 2.5M222.9 424.0l1.7 2.5M229.1 423.9l1.7 2.5" stroke="#808080" stroke-width="1.6" stroke-linecap="round" fill="none"/>
<path d="M54.9 424.2l1.7 2.5M61.2 424.4l1.7 2.5M83.5 424.3l1.7 2.5M92.6 423.9l1.7 2.5M98.9 424.1l1.7 2.5M106.0 424.1l1.7 2.5M108.7 423.9l1.7 2.5M117.6 424.1l1.7 2.5M131.4 424.1l1.7 2.5M152.4 423.8l1.7 2.5M170.4 424.1l1.7 2.5M216.4 424.3l1.7 2.5" stroke="#868686" stroke-width="1.6" stroke-linecap="round" fill="none"/>
<path d="M37.7 424.0l1.7 2.5M70.8 424.3l1.7 2.5M73.6 424.4l1.7 2.5M127.6 424.2l1.7 2.5M134.7 424.2l1.7 2.5M138.0 424.1l1.7 2.5M177.5 424.0l1.7 2.5M183.1 424.0l1.7 2.5M219.1 423.8l1.7 2.5" stroke="#8c8c8c" stroke-width="1.6" stroke-linecap="round" fill="none"/>
<path d="M86.7 424.3l1.7 2.5M111.3 423.9l1.7 2.5M114.6 424.1l1.7 2.5M141.9 424.3l1.7 2.5M162.6 423.9l1.7 2.5M202.6 423.9l1.7 2.5M205.4 424.1l1.7 2.5M226.3 423.9l1.7 2.5" stroke="#939393" stroke-width="1.6" stroke-linecap="round" fill="none"/>
<path d="M149.6 423.9l1.7 2.5M174.3 423.9l1.7 2.5M192.7 423.8l1.7 2.5" stroke="#999999" stroke-width="1.6" stroke-linecap="round" fill="none"/>
<path d="M159.1 423.9l1.7 2.5M166.5 423.9l1.7 2.5" stroke="#9f9f9f" stroke-width="1.6" stroke-linecap="round" fill="none"/>
</g>
<ellipse cx="55.0" cy="443.5" rx="2.0" ry="0.8" fill="#404040" filter="url(#bl5)"/>
<ellipse cx="72.0" cy="443.5" rx="3.0" ry="0.9" fill="#4c4c4c" filter="url(#bl5)"/>
<ellipse cx="185.0" cy="443.5" rx="4.0" ry="1.1" fill="#6b6b6b" filter="url(#bl5)"/>
<rect x="96.0" y="446.00" width="55.0" height="4.00" rx="8.0" ry="2.00" fill="url(#hg48)" filter="url(#bl5)"/>
<rect x="100.0" y="469.60" width="51.0" height="5.40" rx="25.0" ry="2.70" fill="url(#hg49)" filter="url(#bl13)"/>
<rect x="34.0" y="471.80" width="194.0" height="3.20" rx="8.0" ry="1.60" fill="url(#hg50)" filter="url(#bl14)"/>
</g>
</g>
<rect x="31.9" y="421.0" width="198.1" height="68.0" fill="none" stroke="#00004a" stroke-width="0.8" opacity="0.7"/>
<rect x="31.5" y="416.1" width="198.9" height="4.8" fill="url(#topglow)"/>
<text x="28.5" y="420.9" font-size="9.6" text-anchor="end" dominant-baseline="central" font-weight="normal" fill="#3c3c3c" stroke="#3c3c3c" stroke-width="0.30">0</text>
<text x="28.5" y="447.3" font-size="9.6" text-anchor="end" dominant-baseline="central" font-weight="normal" fill="#3c3c3c" stroke="#3c3c3c" stroke-width="0.30">5</text>
<text x="28.5" y="473.2" font-size="9.6" text-anchor="end" dominant-baseline="central" font-weight="normal" fill="#3c3c3c" stroke="#3c3c3c" stroke-width="0.30">10</text>
<text x="78.3" y="498.5" font-size="9.6" text-anchor="middle" dominant-baseline="central" font-weight="normal" fill="#3c3c3c" stroke="#3c3c3c" stroke-width="0.30" textLength="14.0" lengthAdjust="spacingAndGlyphs">-10</text>
<text x="131.2" y="498.5" font-size="9.6" text-anchor="middle" dominant-baseline="central" font-weight="normal" fill="#3c3c3c" stroke="#3c3c3c" stroke-width="0.30">0</text>
<text x="184.0" y="498.5" font-size="9.6" text-anchor="middle" dominant-baseline="central" font-weight="normal" fill="#3c3c3c" stroke="#3c3c3c" stroke-width="0.30">10</text>
<text x="130.9" y="512.0" font-size="10.8" text-anchor="middle" dominant-baseline="central" font-weight="normal" fill="#3c3c3c" stroke="#3c3c3c" stroke-width="0.30" textLength="30.0" lengthAdjust="spacingAndGlyphs">x(mm)</text>
<text x="9.4" y="454.8" font-size="7.8" text-anchor="middle" dominant-baseline="central" font-weight="normal" fill="#3c3c3c" stroke="#3c3c3c" stroke-width="0.30" textLength="29.5" lengthAdjust="spacingAndGlyphs" transform="rotate(-90 9.4 454.8)">z(mm)</text>
<text x="125.7" y="532.9" font-size="12.0" text-anchor="middle" dominant-baseline="central" font-weight="normal" fill="#3c3c3c" stroke="#3c3c3c" stroke-width="0.45">(g)</text>
<g clip-path="url(#cp57)"><g filter="url(#jet)">
<rect x="267.2" y="420.8" width="197.6" height="68.6" fill="#090909" opacity="1.00"/>
<g><rect x="267.2" y="421.0" width="197.6" height="16.0" fill="url(#vg52)" filter="url(#bl0)"/></g>
<rect x="267.2" y="422.30" width="197.6" height="2.40" rx="0.5" ry="1.20" fill="url(#hg53)" filter="url(#bl15)"/>
<g filter="url(#bl12)">
<path d="M279.3 438.2l2.6 0.5" stroke="#131313" stroke-width="1.3" stroke-linecap="round" fill="none"/>
<path d="M438.9 438.2l2.6 0.5M451.5 438.2l2.6 0.5M457.3 438.1l2.6 0.5" stroke="#1a1a1a" stroke-width="1.3" stroke-linecap="round" fill="none"/>
<path d="M286.1 438.1l2.6 0.5M429.7 438.2l2.6 0.5M442.6 438.3l2.6 0.5M445.6 438.0l2.6 0.5M454.3 438.3l2.6 0.5" stroke="#202020" stroke-width="1.3" stroke-linecap="round" fill="none"/>
<path d="M274.6 432.6l-0.3 1.6M280.9 432.9l-0.3 1.6M461.3 432.8l-0.3 1.6" stroke="#202020" stroke-width="1.4" stroke-linecap="round" fill="none"/>
<path d="M282.4 438.2l2.6 0.5M387.3 438.0l2.6 0.5M393.2 438.2l2.6 0.5M414.4 438.0l2.6 0.5M433.2 438.3l2.6 0.5M436.2 438.1l2.6 0.5M448.2 438.3l2.6 0.5" stroke="#262626" stroke-width="1.3" stroke-linecap="round" fill="none"/>
<path d="M268.9 432.6l-0.3 1.6M272.1 432.4l-0.3 1.6M277.4 432.7l-0.3 1.6M291.9 432.9l-0.3 1.6M298.5 432.4l-0.3 1.6M304.1 432.4l-0.3 1.6M323.1 432.7l-0.3 1.6M328.7 432.7l-0.3 1.6M374.2 432.7l-0.3 1.6M400.3 432.5l-0.3 1.6M403.7 432.3l-0.3 1.6M446.4 432.5l-0.3 1.6M449.1 432.6l-0.3 1.6M452.6 432.5l-0.3 1.6" stroke="#262626" stroke-width="1.4" stroke-linecap="round" fill="none"/>
<path d="M301.2 438.1l2.6 0.5M304.6 438.4l2.6 0.5M311.7 438.1l2.6 0.5M342.9 438.2l2.6 0.5M346.2 438.2l2.6 0.5M356.2 438.1l2.6 0.5M405.5 438.0l2.6 0.5M408.6 438.3l2.6 0.5M420.8 438.3l2.6 0.5" stroke="#2d2d2d" stroke-width="1.3" stroke-linecap="round" fill="none"/>
<path d="M283.3 432.9l-0.3 1.6M286.1 432.6l-0.3 1.6M307.1 432.5l-0.3 1.6M310.3 432.9l-0.3 1.6M331.2 432.8l-0.3 1.6M337.2 432.4l-0.3 1.6M343.8 432.7l-0.3 1.6M346.7 432.4l-0.3 1.6M349.6 432.5l-0.3 1.6M365.3 432.8l-0.3 1.6M371.1 432.8l-0.3 1.6M386.5 432.6l-0.3 1.6M418.8 432.9l-0.3 1.6M421.4 432.7l-0.3 1.6M424.1 432.5l-0.3 1.6M430.8 432.8l-0.3 1.6M433.3 432.5l-0.3 1.6M436.8 432.5l-0.3 1.6M443.3 432.8l-0.3 1.6M455.3 432.3l-0.3 1.6" stroke="#2d2d2d" stroke-width="1.4" stroke-linecap="round" fill="none"/>
<path d="M288.7 438.0l2.6 0.5M320.8 438.3l2.6 0.5M323.9 438.1l2.6 0.5M326.5 438.3l2.6 0.5M339.2 438.0l2.6 0.5M352.5 438.0l2.6 0.5M362.5 438.1l2.6 0.5M383.8 438.2l2.6 0.5M423.6 438.2l2.6 0.5M426.6 438.3l2.6 0.5" stroke="#333333" stroke-width="1.3" stroke-linecap="round" fill="none"/>
<path d="M289.2 432.9l-0.3 1.6M295.0 432.4l-0.3 1.6M301.2 432.5l-0.3 1.6M313.8 432.4l-0.3 1.6M316.9 432.7l-0.3 1.6M319.8 432.9l-0.3 1.6M326.2 432.9l-0.3 1.6M368.4 432.8l-0.3 1.6M397.0 432.9l-0.3 1.6M410.4 432.7l-0.3 1.6M416.0 432.3l-0.3 1.6M427.4 432.7l-0.3 1.6M458.4 432.9l-0.3 1.6" stroke="#333333" stroke-width="1.4" stroke-linecap="round" fill="none"/>
<path d="M274.2 429.8l-0.3 1.6M280.5 429.9l-0.3 1.6" stroke="#333333" stroke-width="1.5" stroke-linecap="round" fill="none"/>
<path d="M292.3 438.2l2.6 0.5M314.3 438.4l2.6 0.5M329.6 438.1l2.6 0.5M335.8 438.3l2.6 0.5M359.9 438.1l2.6 0.5M366.2 438.2l2.6 0.5M369.1 438.3l2.6 0.5M378.0 438.2l2.6 0.5M380.7 438.1l2.6 0.5M396.0 438.1l2.6 0.5" stroke="#393939" stroke-width="1.3" stroke-linecap="round" fill="none"/>
<path d="M340.8 432.9l-0.3 1.6M356.2 432.4l-0.3 1.6M362.9 432.5l-0.3 1.6M377.5 432.4l-0.3 1.6M380.2 432.7l-0.3 1.6M390.1 432.8l-0.3 1.6M393.6 432.6l-0.3 1.6M406.8 432.9l-0.3 1.6M413.4 432.7l-0.3 1.6M440.0 432.8l-0.3 1.6" stroke="#393939" stroke-width="1.4" stroke-linecap="round" fill="none"/>
<path d="M267.8 429.9l-0.3 1.6M301.7 429.4l-0.3 1.6M445.2 429.5l-0.3 1.6M453.7 429.4l-0.3 1.6M460.1 429.4l-0.3 1.6" stroke="#393939" stroke-width="1.5" stroke-linecap="round" fill="none"/>
<path d="M308.3 438.3l2.6 0.5M390.6 438.3l2.6 0.5M398.7 438.1l2.6 0.5M411.3 438.1l2.6 0.5" stroke="#404040" stroke-width="1.3" stroke-linecap="round" fill="none"/>
<path d="M334.0 432.8l-0.3 1.6M353.2 432.8l-0.3 1.6M359.3 432.8l-0.3 1.6M383.1 432.5l-0.3 1.6" stroke="#404040" stroke-width="1.4" stroke-linecap="round" fill="none"/>
<path d="M299.1 429.7l-0.3 1.6M406.5 429.9l-0.3 1.6M436.3 429.4l-0.3 1.6M438.8 429.6l-0.3 1.6M463.0 429.6l-0.3 1.6" stroke="#404040" stroke-width="1.5" stroke-linecap="round" fill="none"/>
<path d="M295.2 438.0l2.6 0.5M317.4 438.1l2.6 0.5M371.8 438.1l2.6 0.5M374.9 438.1l2.6 0.5M401.8 438.2l2.6 0.5M417.1 438.0l2.6 0.5" stroke="#464646" stroke-width="1.3" stroke-linecap="round" fill="none"/>
<path d="M283.0 429.6l-0.3 1.6M290.1 429.4l-0.3 1.6M295.9 429.7l-0.3 1.6M322.6 429.7l-0.3 1.6M341.2 429.7l-0.3 1.6M344.3 429.7l-0.3 1.6M347.3 429.6l-0.3 1.6M350.9 429.5l-0.3 1.6M380.1 429.7l-0.3 1.6M424.5 429.9l-0.3 1.6M450.9 429.5l-0.3 1.6" stroke="#464646" stroke-width="1.5" stroke-linecap="round" fill="none"/>
<path d="M298.5 438.2l2.6 0.5M333.2 438.1l2.6 0.5" stroke="#4d4d4d" stroke-width="1.3" stroke-linecap="round" fill="none"/>
<path d="M271.1 429.7l-0.3 1.6M286.6 429.9l-0.3 1.6M325.1 429.6l-0.3 1.6M382.6 429.5l-0.3 1.6M416.0 429.4l-0.3 1.6M421.4 429.7l-0.3 1.6M447.8 429.7l-0.3 1.6M456.7 429.4l-0.3 1.6" stroke="#4d4d4d" stroke-width="1.5" stroke-linecap="round" fill="none"/>
<path d="M349.9 438.0l2.6 0.5" stroke="#535353" stroke-width="1.3" stroke-linecap="round" fill="none"/>
<path d="M276.7 426.5l0.0 1.2M299.5 426.4l0.0 1.2M326.8 426.1l0.0 1.2M332.1 426.3l0.0 1.2M350.8 426.5l0.0 1.2M370.0 426.5l0.0 1.2M382.7 426.2l0.0 1.2M400.3 426.6l0.0 1.2M418.2 426.1l0.0 1.2M463.7 426.0l0.0 1.2M277.0 429.6l-0.3 1.6M292.7 429.9l-0.3 1.6M304.7 429.4l-0.3 1.6M307.6 429.5l-0.3 1.6M310.6 429.6l-0.3 1.6M313.2 429.7l-0.3 1.6M335.1 429.4l-0.3 1.6M362.7 429.6l-0.3 1.6M371.6 429.5l-0.3 1.6M374.5 429.7l-0.3 1.6M385.4 429.4l-0.3 1.6M401.0 429.6l-0.3 1.6M403.9 429.8l-0.3 1.6M412.8 429.9l-0.3 1.6M427.6 429.7l-0.3 1.6M430.5 429.4l-0.3 1.6M433.5 429.7l-0.3 1.6M441.9 429.6l-0.3 1.6" stroke="#535353" stroke-width="1.5" stroke-linecap="round" fill="none"/>
<path d="M270.9 421.2l0.0 0.8M274.5 421.3l0.0 0.8M282.8 421.2l0.0 0.8M300.0 421.2l0.0 0.8M314.0 421.4l0.0 0.8M325.7 421.4l0.0 0.8M331.4 421.3l0.0 0.8M346.7 421.4l0.0 0.8M366.1 421.2l0.0 0.8" stroke="#595959" stroke-width="1.3" stroke-linecap="round" fill="none"/>
<path d="M314.7 426.2l0.0 1.2M329.6 426.4l0.0 1.2M376.5 426.1l0.0 1.2M423.9 426.2l0.0 1.2M436.6 426.5l0.0 1.2M442.7 426.3l0.0 1.2M446.0 426.4l0.0 1.2M461.1 426.5l0.0 1.2M315.9 429.7l-0.3 1.6M319.3 429.6l-0.3 1.6M328.5 429.9l-0.3 1.6M338.5 429.4l-0.3 1.6M368.4 429.9l-0.3 1.6M394.9 429.8l-0.3 1.6M398.0 429.7l-0.3 1.6M409.5 429.9l-0.3 1.6M418.5 429.9l-0.3 1.6" stroke="#595959" stroke-width="1.5" stroke-linecap="round" fill="none"/>
<path d="M277.5 421.3l0.0 0.8M288.2 421.4l0.0 0.8M293.9 421.4l0.0 0.8M303.5 421.2l0.0 0.8M310.5 421.3l0.0 0.8M322.7 421.3l0.0 0.8M340.4 421.3l0.0 0.8M343.9 421.4l0.0 0.8M349.5 421.3l0.0 0.8M357.6 421.2l0.0 0.8M375.2 421.4l0.0 0.8M390.5 421.3l0.0 0.8M393.4 421.3l0.0 0.8M419.3 421.3l0.0 0.8" stroke="#606060" stroke-width="1.3" stroke-linecap="round" fill="none"/>
<path d="M308.5 426.5l0.0 1.2M320.8 426.1l0.0 1.2M323.5 426.3l0.0 1.2M347.5 426.1l0.0 1.2M364.0 426.5l0.0 1.2M367.0 426.4l0.0 1.2M385.1 426.6l0.0 1.2M396.7 426.4l0.0 1.2M406.3 426.6l0.0 1.2M409.5 426.1l0.0 1.2M412.2 426.2l0.0 1.2M448.9 426.2l0.0 1.2M354.1 429.9l-0.3 1.6M356.9 429.4l-0.3 1.6M359.8 429.7l-0.3 1.6M365.8 429.9l-0.3 1.6M388.4 429.7l-0.3 1.6" stroke="#606060" stroke-width="1.5" stroke-linecap="round" fill="none"/>
<path d="M280.1 421.2l0.0 0.8M290.7 421.3l0.0 0.8M296.9 421.4l0.0 0.8M307.0 421.4l0.0 0.8M316.5 421.4l0.0 0.8M328.7 421.2l0.0 0.8M334.1 421.3l0.0 0.8M352.2 421.3l0.0 0.8M355.1 421.2l0.0 0.8M360.6 421.4l0.0 0.8M369.0 421.4l0.0 0.8M381.2 421.2l0.0 0.8M384.8 421.2l0.0 0.8M387.9 421.3l0.0 0.8M399.6 421.2l0.0 0.8M402.2 421.2l0.0 0.8M407.9 421.3l0.0 0.8M416.1 421.4l0.0 0.8M426.4 421.2l0.0 0.8M444.5 421.3l0.0 0.8M454.0 421.3l0.0 0.8M462.4 421.4l0.0 0.8" stroke="#666666" stroke-width="1.3" stroke-linecap="round" fill="none"/>
<path d="M267.9 426.3l0.0 1.2M293.0 426.1l0.0 1.2M302.9 426.2l0.0 1.2M317.5 426.1l0.0 1.2M341.1 426.6l0.0 1.2M357.5 426.5l0.0 1.2M393.2 426.1l0.0 1.2M402.7 426.4l0.0 1.2M426.7 426.2l0.0 1.2M433.2 426.2l0.0 1.2M439.5 426.3l0.0 1.2M332.0 429.7l-0.3 1.6M377.1 429.5l-0.3 1.6M391.9 429.6l-0.3 1.6" stroke="#666666" stroke-width="1.5" stroke-linecap="round" fill="none"/>
<path d="M267.7 421.2l0.0 0.8M285.7 421.3l0.0 0.8M320.0 421.3l0.0 0.8M337.5 421.2l0.0 0.8M363.6 421.4l0.0 0.8M396.7 421.3l0.0 0.8M405.5 421.3l0.0 0.8M413.4 421.2l0.0 0.8M422.8 421.4l0.0 0.8M447.9 421.4l0.0 0.8" stroke="#6c6c6c" stroke-width="1.3" stroke-linecap="round" fill="none"/>
<path d="M270.6 426.2l0.0 1.2M273.4 426.5l0.0 1.2M279.9 426.2l0.0 1.2M283.2 426.2l0.0 1.2M286.4 426.6l0.0 1.2M289.9 426.1l0.0 1.2M296.0 426.5l0.0 1.2M311.9 426.4l0.0 1.2M354.0 426.2l0.0 1.2M361.0 426.6l0.0 1.2M379.5 426.5l0.0 1.2M388.0 426.4l0.0 1.2M390.5 426.0l0.0 1.2M415.0 426.2l0.0 1.2M429.9 426.5l0.0 1.2M452.0 426.1l0.0 1.2M454.6 426.1l0.0 1.2M457.9 426.1l0.0 1.2" stroke="#6c6c6c" stroke-width="1.5" stroke-linecap="round" fill="none"/>
<path d="M371.8 421.2l0.0 0.8M377.6 421.4l0.0 0.8M410.4 421.4l0.0 0.8M429.4 421.3l0.0 0.8M432.9 421.3l0.0 0.8M436.1 421.4l0.0 0.8M438.8 421.2l0.0 0.8M441.7 421.4l0.0 0.8M451.1 421.3l0.0 0.8M457.0 421.2l0.0 0.8M459.5 421.2l0.0 0.8" stroke="#737373" stroke-width="1.3" stroke-linecap="round" fill="none"/>
<path d="M305.4 426.5l0.0 1.2M335.4 426.3l0.0 1.2M338.2 426.4l0.0 1.2M421.4 426.2l0.0 1.2" stroke="#737373" stroke-width="1.5" stroke-linecap="round" fill="none"/>
<path d="M344.7 426.1l0.0 1.2M373.0 426.3l0.0 1.2" stroke="#797979" stroke-width="1.5" stroke-linecap="round" fill="none"/>
</g>
<ellipse cx="307.6" cy="443.5" rx="3.0" ry="1.0" fill="#666666" filter="url(#bl5)"/>
<ellipse cx="420.7" cy="443.2" rx="4.0" ry="1.1" fill="#6b6b6b" filter="url(#bl5)"/>
<rect x="331.0" y="446.00" width="55.0" height="4.00" rx="8.0" ry="2.00" fill="url(#hg54)" filter="url(#bl5)"/>
<rect x="335.0" y="470.10" width="51.0" height="5.40" rx="25.0" ry="2.70" fill="url(#hg55)" filter="url(#bl13)"/>
<rect x="269.0" y="472.20" width="195.0" height="3.20" rx="8.0" ry="1.60" fill="url(#hg56)" filter="url(#bl14)"/>
</g>
<rect x="334.0" y="441.85" width="51.0" height="1.10" rx="4.0" ry="0.55" fill="#a0105a" opacity="0.60" filter="url(#bl9)"/>
<rect x="338.0" y="452.65" width="44.0" height="1.10" rx="4.0" ry="0.55" fill="#a0105a" opacity="0.60" filter="url(#bl9)"/>
<ellipse cx="300.0" cy="423.8" rx="1.1" ry="0.8" fill="#e03010" opacity="0.55" filter="url(#bl10)"/>
<ellipse cx="305.0" cy="423.8" rx="1.1" ry="0.8" fill="#e03010" opacity="0.55" filter="url(#bl10)"/>
<ellipse cx="310.0" cy="423.8" rx="1.1" ry="0.8" fill="#e03010" opacity="0.55" filter="url(#bl10)"/>
<ellipse cx="315.0" cy="423.8" rx="1.1" ry="0.8" fill="#e03010" opacity="0.55" filter="url(#bl10)"/>
<ellipse cx="320.0" cy="423.8" rx="1.1" ry="0.8" fill="#e03010" opacity="0.55" filter="url(#bl10)"/>
<ellipse cx="325.0" cy="423.8" rx="1.1" ry="0.8" fill="#e03010" opacity="0.55" filter="url(#bl10)"/>
<ellipse cx="330.0" cy="423.8" rx="1.1" ry="0.8" fill="#e03010" opacity="0.55" filter="url(#bl10)"/>
<ellipse cx="335.0" cy="423.8" rx="1.1" ry="0.8" fill="#e03010" opacity="0.55" filter="url(#bl10)"/>
<ellipse cx="340.0" cy="423.8" rx="1.1" ry="0.8" fill="#e03010" opacity="0.55" filter="url(#bl10)"/>
<ellipse cx="345.0" cy="423.8" rx="1.1" ry="0.8" fill="#e03010" opacity="0.55" filter="url(#bl10)"/>
<ellipse cx="350.0" cy="423.8" rx="1.1" ry="0.8" fill="#e03010" opacity="0.55" filter="url(#bl10)"/>
<ellipse cx="355.0" cy="423.8" rx="1.1" ry="0.8" fill="#e03010" opacity="0.55" filter="url(#bl10)"/>
<ellipse cx="360.0" cy="423.8" rx="1.1" ry="0.8" fill="#e03010" opacity="0.55" filter="url(#bl10)"/>
<ellipse cx="365.0" cy="423.8" rx="1.1" ry="0.8" fill="#e03010" opacity="0.55" filter="url(#bl10)"/>
<ellipse cx="370.0" cy="423.8" rx="1.1" ry="0.8" fill="#e03010" opacity="0.55" filter="url(#bl10)"/>
<ellipse cx="375.0" cy="423.8" rx="1.1" ry="0.8" fill="#e03010" opacity="0.55" filter="url(#bl10)"/>
<ellipse cx="380.0" cy="423.8" rx="1.1" ry="0.8" fill="#e03010" opacity="0.55" filter="url(#bl10)"/>
<ellipse cx="385.0" cy="423.8" rx="1.1" ry="0.8" fill="#e03010" opacity="0.55" filter="url(#bl10)"/>
<ellipse cx="390.0" cy="423.8" rx="1.1" ry="0.8" fill="#e03010" opacity="0.55" filter="url(#bl10)"/>
<ellipse cx="395.0" cy="423.8" rx="1.1" ry="0.8" fill="#e03010" opacity="0.55" filter="url(#bl10)"/>
<ellipse cx="400.0" cy="423.8" rx="1.1" ry="0.8" fill="#e03010" opacity="0.55" filter="url(#bl10)"/>
<ellipse cx="405.0" cy="423.8" rx="1.1" ry="0.8" fill="#e03010" opacity="0.55" filter="url(#bl10)"/>
<ellipse cx="410.0" cy="423.8" rx="1.1" ry="0.8" fill="#e03010" opacity="0.55" filter="url(#bl10)"/>
<ellipse cx="415.0" cy="423.8" rx="1.1" ry="0.8" fill="#e03010" opacity="0.55" filter="url(#bl10)"/>
<ellipse cx="420.0" cy="423.8" rx="1.1" ry="0.8" fill="#e03010" opacity="0.55" filter="url(#bl10)"/>
<ellipse cx="425.0" cy="423.8" rx="1.1" ry="0.8" fill="#e03010" opacity="0.55" filter="url(#bl10)"/>
<ellipse cx="430.0" cy="423.8" rx="1.1" ry="0.8" fill="#e03010" opacity="0.55" filter="url(#bl10)"/>
<ellipse cx="435.0" cy="423.8" rx="1.1" ry="0.8" fill="#e03010" opacity="0.55" filter="url(#bl10)"/>
</g>
<rect x="267.6" y="421.2" width="196.8" height="67.8" fill="none" stroke="#00004a" stroke-width="0.8" opacity="0.7"/>
<rect x="267.2" y="416.3" width="197.6" height="4.8" fill="url(#topglow)"/>
<text x="264.5" y="420.9" font-size="9.6" text-anchor="end" dominant-baseline="central" font-weight="normal" fill="#3c3c3c" stroke="#3c3c3c" stroke-width="0.30">0</text>
<text x="264.5" y="447.3" font-size="9.6" text-anchor="end" dominant-baseline="central" font-weight="normal" fill="#3c3c3c" stroke="#3c3c3c" stroke-width="0.30">5</text>
<text x="264.5" y="473.2" font-size="9.6" text-anchor="end" dominant-baseline="central" font-weight="normal" fill="#3c3c3c" stroke="#3c3c3c" stroke-width="0.30">10</text>
<text x="313.8" y="498.5" font-size="9.6" text-anchor="middle" dominant-baseline="central" font-weight="normal" fill="#3c3c3c" stroke="#3c3c3c" stroke-width="0.30" textLength="14.0" lengthAdjust="spacingAndGlyphs">-10</text>
<text x="365.6" y="498.5" font-size="9.6" text-anchor="middle" dominant-baseline="central" font-weight="normal" fill="#3c3c3c" stroke="#3c3c3c" stroke-width="0.30">0</text>
<text x="418.5" y="498.5" font-size="9.6" text-anchor="middle" dominant-baseline="central" font-weight="normal" fill="#3c3c3c" stroke="#3c3c3c" stroke-width="0.30">10</text>
<text x="366.0" y="512.0" font-size="10.8" text-anchor="middle" dominant-baseline="central" font-weight="normal" fill="#3c3c3c" stroke="#3c3c3c" stroke-width="0.30" textLength="30.0" lengthAdjust="spacingAndGlyphs">x(mm)</text>
<text x="243.4" y="454.8" font-size="7.8" text-anchor="middle" dominant-baseline="central" font-weight="normal" fill="#3c3c3c" stroke="#3c3c3c" stroke-width="0.30" textLength="29.5" lengthAdjust="spacingAndGlyphs" transform="rotate(-90 243.4 454.8)">z(mm)</text>
<text x="366.0" y="532.9" font-size="12.0" text-anchor="middle" dominant-baseline="central" font-weight="normal" fill="#3c3c3c" stroke="#3c3c3c" stroke-width="0.45">(h)</text>
<rect x="501.0" y="5.5" width="12.5" height="214.0" fill="url(#cb58)"/>
<text x="516.0" y="5.5" font-size="7.6" text-anchor="start" dominant-baseline="central" font-weight="normal" fill="#3c3c3c" stroke="#3c3c3c" stroke-width="0.30">0</text>
<text x="516.0" y="26.9" font-size="7.6" text-anchor="start" dominant-baseline="central" font-weight="normal" fill="#3c3c3c" stroke="#3c3c3c" stroke-width="0.30">-2</text>
<rect x="511.5" y="26.6" width="2" height="0.6" fill="#333" opacity="0.5"/>
<text x="516.0" y="48.3" font-size="7.6" text-anchor="start" dominant-baseline="central" font-weight="normal" fill="#3c3c3c" stroke="#3c3c3c" stroke-width="0.30">-4</text>
<rect x="511.5" y="48.0" width="2" height="0.6" fill="#333" opacity="0.5"/>
<text x="516.0" y="69.7" font-size="7.6" text-anchor="start" dominant-baseline="central" font-weight="normal" fill="#3c3c3c" stroke="#3c3c3c" stroke-width="0.30">-6</text>
<rect x="511.5" y="69.4" width="2" height="0.6" fill="#333" opacity="0.5"/>
<text x="516.0" y="91.1" font-size="7.6" text-anchor="start" dominant-baseline="central" font-weight="normal" fill="#3c3c3c" stroke="#3c3c3c" stroke-width="0.30">-8</text>
<rect x="511.5" y="90.8" width="2" height="0.6" fill="#333" opacity="0.5"/>
<text x="516.0" y="112.5" font-size="7.6" text-anchor="start" dominant-baseline="central" font-weight="normal" fill="#3c3c3c" stroke="#3c3c3c" stroke-width="0.30">-10</text>
<rect x="511.5" y="112.2" width="2" height="0.6" fill="#333" opacity="0.5"/>
<text x="516.0" y="133.9" font-size="7.6" text-anchor="start" dominant-baseline="central" font-weight="normal" fill="#3c3c3c" stroke="#3c3c3c" stroke-width="0.30">-12</text>
<rect x="511.5" y="133.6" width="2" height="0.6" fill="#333" opacity="0.5"/>
<text x="516.0" y="155.3" font-size="7.6" text-anchor="start" dominant-baseline="central" font-weight="normal" fill="#3c3c3c" stroke="#3c3c3c" stroke-width="0.30">-14</text>
<rect x="511.5" y="155.0" width="2" height="0.6" fill="#333" opacity="0.5"/>
<text x="516.0" y="176.7" font-size="7.6" text-anchor="start" dominant-baseline="central" font-weight="normal" fill="#3c3c3c" stroke="#3c3c3c" stroke-width="0.30">-16</text>
<rect x="511.5" y="176.4" width="2" height="0.6" fill="#333" opacity="0.5"/>
<text x="516.0" y="198.1" font-size="7.6" text-anchor="start" dominant-baseline="central" font-weight="normal" fill="#3c3c3c" stroke="#3c3c3c" stroke-width="0.30">-18</text>
<rect x="511.5" y="197.8" width="2" height="0.6" fill="#333" opacity="0.5"/>
<text x="516.0" y="219.5" font-size="7.6" text-anchor="start" dominant-baseline="central" font-weight="normal" fill="#3c3c3c" stroke="#3c3c3c" stroke-width="0.30">-20</text>
<text x="538.3" y="107.6" font-size="10.3" text-anchor="middle" dominant-baseline="central" font-weight="normal" fill="#3c3c3c" stroke="#3c3c3c" stroke-width="0.30" textLength="73.0" lengthAdjust="spacingAndGlyphs" transform="rotate(-90 538.3 107.6)">Amplitude(dB)</text>
<rect x="501.0" y="280.0" width="13.0" height="227.0" fill="url(#cb59)"/>
<text x="516.5" y="280.0" font-size="7.6" text-anchor="start" dominant-baseline="central" font-weight="normal" fill="#3c3c3c" stroke="#3c3c3c" stroke-width="0.30">0</text>
<text x="516.5" y="302.7" font-size="7.6" text-anchor="start" dominant-baseline="central" font-weight="normal" fill="#3c3c3c" stroke="#3c3c3c" stroke-width="0.30">-2</text>
<rect x="512.0" y="302.4" width="2" height="0.6" fill="#333" opacity="0.5"/>
<text x="516.5" y="325.4" font-size="7.6" text-anchor="start" dominant-baseline="central" font-weight="normal" fill="#3c3c3c" stroke="#3c3c3c" stroke-width="0.30">-4</text>
<rect x="512.0" y="325.1" width="2" height="0.6" fill="#333" opacity="0.5"/>
<text x="516.5" y="348.1" font-size="7.6" text-anchor="start" dominant-baseline="central" font-weight="normal" fill="#3c3c3c" stroke="#3c3c3c" stroke-width="0.30">-6</text>
<rect x="512.0" y="347.8" width="2" height="0.6" fill="#333" opacity="0.5"/>
<text x="516.5" y="370.8" font-size="7.6" text-anchor="start" dominant-baseline="central" font-weight="normal" fill="#3c3c3c" stroke="#3c3c3c" stroke-width="0.30">-8</text>
<rect x="512.0" y="370.5" width="2" height="0.6" fill="#333" opacity="0.5"/>
<text x="516.5" y="393.5" font-size="7.6" text-anchor="start" dominant-baseline="central" font-weight="normal" fill="#3c3c3c" stroke="#3c3c3c" stroke-width="0.30">-10</text>
<rect x="512.0" y="393.2" width="2" height="0.6" fill="#333" opacity="0.5"/>
<text x="516.5" y="416.2" font-size="7.6" text-anchor="start" dominant-baseline="central" font-weight="normal" fill="#3c3c3c" stroke="#3c3c3c" stroke-width="0.30">-12</text>
<rect x="512.0" y="415.9" width="2" height="0.6" fill="#333" opacity="0.5"/>
<text x="516.5" y="438.9" font-size="7.6" text-anchor="start" dominant-baseline="central" font-weight="normal" fill="#3c3c3c" stroke="#3c3c3c" stroke-width="0.30">-14</text>
<rect x="512.0" y="438.6" width="2" height="0.6" fill="#333" opacity="0.5"/>
<text x="516.5" y="461.6" font-size="7.6" text-anchor="start" dominant-baseline="central" font-weight="normal" fill="#3c3c3c" stroke="#3c3c3c" stroke-width="0.30">-16</text>
<rect x="512.0" y="461.3" width="2" height="0.6" fill="#333" opacity="0.5"/>
<text x="516.5" y="484.3" font-size="7.6" text-anchor="start" dominant-baseline="central" font-weight="normal" fill="#3c3c3c" stroke="#3c3c3c" stroke-width="0.30">-18</text>
<rect x="512.0" y="484.0" width="2" height="0.6" fill="#333" opacity="0.5"/>
<text x="516.5" y="507.0" font-size="7.6" text-anchor="start" dominant-baseline="central" font-weight="normal" fill="#3c3c3c" stroke="#3c3c3c" stroke-width="0.30">-20</text>
<text x="538.3" y="390.6" font-size="10.3" text-anchor="middle" dominant-baseline="central" font-weight="normal" fill="#3c3c3c" stroke="#3c3c3c" stroke-width="0.30" textLength="74.5" lengthAdjust="spacingAndGlyphs" transform="rotate(-90 538.3 390.6)">Amplitude(dB)</text>
</svg></body></html>
